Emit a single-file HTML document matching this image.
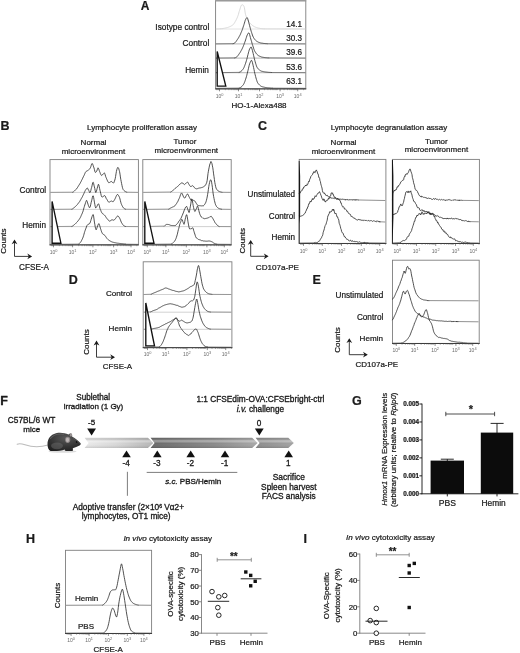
<!DOCTYPE html>
<html lang="en">
<head>
<meta charset="utf-8">
<title>Figure</title>
<style>
html,body{margin:0;padding:0;background:#fff;}
body{width:520px;height:653px;overflow:hidden;font-family:"Liberation Sans",Arial,Helvetica,sans-serif;}
svg{display:block;filter:blur(0.35px);}
svg text{stroke:#1a1a1a;stroke-width:0.22px;stroke-linejoin:round;}
svg text.tk{stroke:none;}
#panelF text{stroke-width:0.32px;}
</style>
</head>
<body>
<svg width="520" height="653" viewBox="0 0 520 653" font-family="'Liberation Sans', Arial, Helvetica, sans-serif" fill="#1a1a1a">
<rect width="520" height="653" fill="#fff"/>
<g id="panelA">
<text x="140.80" y="9.92" font-size="12" font-weight="bold">A</text>
<rect x="215.60" y="0.70" width="90.20" height="88.10" fill="#fff" stroke="#7e7e7e" stroke-width="0.9"/>
<rect x="215.15" y="0" width="91.10" height="1.4" fill="#9a9a9a"/>
<line x1="215.60" y1="29.00" x2="305.80" y2="29.00" stroke="#cfcfcf" stroke-width="0.55"/>
<path d="M216.00 29.00 L220.80 28.76" fill="none" stroke="#d4d4d4" stroke-width="0.68"/>
<path d="M220.80 28.76 L221.20 28.73 L221.60 28.66 L222.00 28.60 L222.40 28.56 L222.80 28.51 L223.20 28.43 L223.60 28.38 L224.00 28.30 L224.40 28.23 L224.80 28.18 L225.20 28.07 L225.60 27.95 L226.00 27.84 L226.40 27.76 L226.80 27.71 L227.20 27.63 L227.60 27.51 L228.00 27.32 L228.40 27.21 L228.80 27.08 L229.20 26.88 L229.60 26.76 L230.00 26.58 L230.40 26.41 L230.80 26.25 L231.20 26.00 L231.60 25.71 L232.00 25.52 L232.40 25.27 L232.80 24.95 L233.20 24.63 L233.60 24.15 L234.00 23.57 L234.40 22.98 L234.80 22.36 L235.20 21.62 L235.60 21.00 L236.00 20.20 L236.40 19.41 L236.80 18.54 L237.20 17.76 L237.60 16.71 L238.00 15.69 L238.40 14.47 L238.80 12.99 L239.20 11.54 L239.60 10.36 L240.00 9.05 L240.40 7.65 L240.80 6.38 L241.20 5.44 L241.60 5.19 L242.00 5.02 L242.40 4.82 L242.80 4.96 L243.20 5.20 L243.60 5.68 L244.00 6.43 L244.40 7.68 L244.80 10.28 L245.20 13.00 L245.60 14.79 L246.00 15.93 L246.40 17.06 L246.80 18.03 L247.20 18.94 L247.60 19.65 L248.00 20.31 L248.40 20.99 L248.80 21.53 L249.20 22.10 L249.60 22.70 L250.00 23.16 L250.40 23.52 L250.80 23.93 L251.20 24.29 L251.60 24.73 L252.00 25.04 L252.40 25.36 L252.80 25.67 L253.20 25.95 L253.60 26.20 L254.00 26.45 L254.40 26.68 L254.80 26.92 L255.20 27.09 L255.60 27.20 L256.00 27.36 L256.40 27.53 L256.80 27.67 L257.20 27.75 L257.60 27.88 L258.00 27.99 L258.40 28.09 L258.80 28.16 L259.20 28.21 L259.60 28.30 L260.00 28.38 L260.40 28.45 L260.80 28.52 L261.20 28.57 L261.60 28.61 L262.00 28.64 L262.40 28.68 L262.80 28.73 L263.20 28.75 L263.60 28.77 L264.00 28.82" fill="none" stroke="#cfcfcf" stroke-width="0.8" stroke-linejoin="round" stroke-linecap="round"/>
<path d="M264.00 28.82 L305.20 29.00" fill="none" stroke="#d4d4d4" stroke-width="0.68"/>
<line x1="215.60" y1="43.90" x2="305.80" y2="43.90" stroke="#777" stroke-width="0.55"/>
<path d="M216.00 43.90 L233.20 43.68" fill="none" stroke="#5c5c5c" stroke-width="0.68"/>
<path d="M233.20 43.68 L233.60 43.54 L234.00 43.41 L234.40 43.21 L234.80 42.94 L235.20 42.51 L235.60 42.02 L236.00 41.57 L236.40 41.03 L236.80 40.37 L237.20 39.81 L237.60 39.17 L238.00 38.61 L238.40 38.04 L238.80 37.31 L239.20 36.53 L239.60 35.84 L240.00 35.13 L240.40 34.29 L240.80 33.28 L241.20 32.32 L241.60 31.44 L242.00 30.40 L242.40 29.33 L242.80 28.21 L243.20 26.86 L243.60 25.79 L244.00 24.48 L244.40 23.11 L244.80 21.82 L245.20 20.42 L245.60 19.51 L246.00 18.68 L246.40 18.20 L246.80 17.72 L247.20 17.69 L247.60 18.42 L248.00 19.55 L248.40 21.12 L248.80 22.77 L249.20 24.04 L249.60 25.65 L250.00 27.16 L250.40 28.51 L250.80 29.92 L251.20 31.34 L251.60 32.45 L252.00 33.81 L252.40 35.03 L252.80 36.01 L253.20 36.95 L253.60 37.68 L254.00 38.36 L254.40 38.96 L254.80 39.44 L255.20 39.94 L255.60 40.35 L256.00 40.74 L256.40 41.07 L256.80 41.29 L257.20 41.54 L257.60 41.76 L258.00 41.93 L258.40 42.17 L258.80 42.37 L259.20 42.47 L259.60 42.60 L260.00 42.76 L260.40 42.89 L260.80 42.96 L261.20 43.02 L261.60 43.13 L262.00 43.16 L262.40 43.21 L262.80 43.28 L263.20 43.35 L263.60 43.42 L264.00 43.48 L264.40 43.48 L264.80 43.53 L265.20 43.56 L265.60 43.60 L266.00 43.61 L266.40 43.64 L266.80 43.68 L267.20 43.71" fill="none" stroke="#242424" stroke-width="0.8" stroke-linejoin="round" stroke-linecap="round"/>
<path d="M267.20 43.71 L305.20 43.90" fill="none" stroke="#5c5c5c" stroke-width="0.68"/>
<line x1="215.60" y1="58.10" x2="305.80" y2="58.10" stroke="#777" stroke-width="0.55"/>
<path d="M216.00 58.10 L234.80 57.88" fill="none" stroke="#5c5c5c" stroke-width="0.68"/>
<path d="M234.80 57.88 L235.20 57.76 L235.60 57.64 L236.00 57.51 L236.40 57.27 L236.80 56.90 L237.20 56.45 L237.60 56.01 L238.00 55.49 L238.40 54.94 L238.80 54.36 L239.20 53.76 L239.60 53.20 L240.00 52.68 L240.40 51.95 L240.80 51.29 L241.20 50.57 L241.60 49.88 L242.00 49.09 L242.40 48.28 L242.80 47.33 L243.20 46.49 L243.60 45.42 L244.00 44.41 L244.40 43.21 L244.80 42.22 L245.20 41.12 L245.60 39.95 L246.00 38.57 L246.40 37.39 L246.80 36.08 L247.20 35.07 L247.60 34.31 L248.00 33.66 L248.40 32.98 L248.80 32.85 L249.20 33.19 L249.60 34.59 L250.00 35.97 L250.40 37.59 L250.80 39.01 L251.20 40.27 L251.60 41.59 L252.00 43.21 L252.40 44.59 L252.80 45.73 L253.20 46.98 L253.60 48.22 L254.00 49.44 L254.40 50.51 L254.80 51.30 L255.20 51.90 L255.60 52.46 L256.00 53.09 L256.40 53.72 L256.80 54.21 L257.20 54.58 L257.60 54.93 L258.00 55.27 L258.40 55.60 L258.80 55.82 L259.20 56.03 L259.60 56.21 L260.00 56.41 L260.40 56.53 L260.80 56.67 L261.20 56.86 L261.60 57.00 L262.00 57.07 L262.40 57.20 L262.80 57.25 L263.20 57.33 L263.60 57.39 L264.00 57.44 L264.40 57.52 L264.80 57.58 L265.20 57.63 L265.60 57.66 L266.00 57.69 L266.40 57.74 L266.80 57.76 L267.20 57.80 L267.60 57.84 L268.00 57.86 L268.40 57.86 L268.80 57.89" fill="none" stroke="#242424" stroke-width="0.8" stroke-linejoin="round" stroke-linecap="round"/>
<path d="M268.80 57.89 L305.20 58.10" fill="none" stroke="#5c5c5c" stroke-width="0.68"/>
<line x1="215.60" y1="72.70" x2="305.80" y2="72.70" stroke="#777" stroke-width="0.55"/>
<path d="M216.00 72.70 L239.20 72.35" fill="none" stroke="#5c5c5c" stroke-width="0.68"/>
<path d="M239.20 72.35 L239.60 72.16 L240.00 71.95 L240.40 71.77 L240.80 71.50 L241.20 71.16 L241.60 70.87 L242.00 70.49 L242.40 69.98 L242.80 69.45 L243.20 68.92 L243.60 68.30 L244.00 67.46 L244.40 66.44 L244.80 65.41 L245.20 64.33 L245.60 63.28 L246.00 61.94 L246.40 60.69 L246.80 59.23 L247.20 57.81 L247.60 56.04 L248.00 54.49 L248.40 52.92 L248.80 51.48 L249.20 50.06 L249.60 49.10 L250.00 48.24 L250.40 47.61 L250.80 47.05 L251.20 47.05 L251.60 47.75 L252.00 49.05 L252.40 50.42 L252.80 52.01 L253.20 53.56 L253.60 55.38 L254.00 57.09 L254.40 58.83 L254.80 60.36 L255.20 61.86 L255.60 63.21 L256.00 64.53 L256.40 65.78 L256.80 66.84 L257.20 67.50 L257.60 68.13 L258.00 68.62 L258.40 69.07 L258.80 69.44 L259.20 69.85 L259.60 70.15 L260.00 70.44 L260.40 70.64 L260.80 70.91 L261.20 71.08 L261.60 71.21 L262.00 71.28 L262.40 71.40 L262.80 71.51 L263.20 71.59 L263.60 71.69 L264.00 71.79 L264.40 71.84 L264.80 71.87 L265.20 71.92 L265.60 72.00 L266.00 72.04 L266.40 72.07 L266.80 72.14 L267.20 72.17 L267.60 72.22 L268.00 72.27 L268.40 72.30 L268.80 72.34 L269.20 72.36 L269.60 72.40 L270.00 72.42 L270.40 72.45 L270.80 72.45 L271.20 72.47 L271.60 72.51" fill="none" stroke="#242424" stroke-width="0.8" stroke-linejoin="round" stroke-linecap="round"/>
<path d="M271.60 72.51 L305.20 72.70" fill="none" stroke="#5c5c5c" stroke-width="0.68"/>
<path d="M216.00 88.30 L239.20 88.05" fill="none" stroke="#5c5c5c" stroke-width="0.68"/>
<path d="M239.20 88.05 L239.60 87.89 L240.00 87.71 L240.40 87.52 L240.80 87.29 L241.20 87.05 L241.60 86.70 L242.00 86.33 L242.40 85.83 L242.80 85.30 L243.20 84.85 L243.60 84.30 L244.00 83.50 L244.40 82.57 L244.80 81.64 L245.20 80.49 L245.60 79.25 L246.00 78.04 L246.40 76.73 L246.80 75.27 L247.20 73.62 L247.60 72.06 L248.00 70.38 L248.40 68.75 L248.80 66.97 L249.20 65.25 L249.60 63.84 L250.00 62.81 L250.40 62.02 L250.80 61.21 L251.20 60.44 L251.60 60.36 L252.00 61.16 L252.40 62.32 L252.80 64.08 L253.20 65.78 L253.60 67.55 L254.00 69.48 L254.40 71.48 L254.80 73.39 L255.20 74.89 L255.60 76.47 L256.00 78.00 L256.40 79.38 L256.80 80.60 L257.20 81.80 L257.60 82.63 L258.00 83.28 L258.40 83.80 L258.80 84.28 L259.20 84.68 L259.60 85.08 L260.00 85.47 L260.40 85.76 L260.80 86.08 L261.20 86.33 L261.60 86.47 L262.00 86.64 L262.40 86.75 L262.80 86.91 L263.20 86.98 L263.60 87.09 L264.00 87.21 L264.40 87.25 L264.80 87.34 L265.20 87.42 L265.60 87.50 L266.00 87.57 L266.40 87.62 L266.80 87.65 L267.20 87.71 L267.60 87.76 L268.00 87.79 L268.40 87.82 L268.80 87.86 L269.20 87.88 L269.60 87.92 L270.00 87.96 L270.40 87.98 L270.80 88.02 L271.20 88.05 L271.60 88.07 L272.00 88.08 L272.40 88.11" fill="none" stroke="#242424" stroke-width="0.8" stroke-linejoin="round" stroke-linecap="round"/>
<path d="M272.40 88.11 L305.20 88.30" fill="none" stroke="#5c5c5c" stroke-width="0.68"/>
<text x="302.00" y="27.13" font-size="8.15" text-anchor="end">14.1</text>
<text x="302.00" y="40.93" font-size="8.15" text-anchor="end">30.3</text>
<text x="302.00" y="54.93" font-size="8.15" text-anchor="end">39.6</text>
<text x="302.00" y="69.73" font-size="8.15" text-anchor="end">53.6</text>
<text x="302.00" y="84.23" font-size="8.15" text-anchor="end">63.1</text>
<path d="M217.20 51.50 L217.20 86.10 L225.80 86.10 Z" fill="#fff" stroke="#111" stroke-width="1.35" stroke-linejoin="miter"/>
<text x="209.30" y="30.29" font-size="8.3" text-anchor="end">Isotype control</text>
<text x="209.30" y="45.59" font-size="8.3" text-anchor="end">Control</text>
<text x="208.80" y="73.15" font-size="8.2" text-anchor="end">Hemin</text>
<line x1="215.15" y1="88.90" x2="306.25" y2="88.90" stroke="#3c3c3c" stroke-width="1.0"/>
<line x1="219.50" y1="88.80" x2="219.50" y2="91.30" stroke="#444" stroke-width="0.6"/>
<text x="219.50" y="97.80" font-size="5.0" text-anchor="middle" class="tk" fill="#6a6a6a">10<tspan dy="-2.1" font-size="3.90">0</tspan></text>
<line x1="238.50" y1="88.80" x2="238.50" y2="91.30" stroke="#444" stroke-width="0.6"/>
<text x="238.50" y="97.80" font-size="5.0" text-anchor="middle" class="tk" fill="#6a6a6a">10<tspan dy="-2.1" font-size="3.90">1</tspan></text>
<line x1="259.50" y1="88.80" x2="259.50" y2="91.30" stroke="#444" stroke-width="0.6"/>
<text x="259.50" y="97.80" font-size="5.0" text-anchor="middle" class="tk" fill="#6a6a6a">10<tspan dy="-2.1" font-size="3.90">2</tspan></text>
<line x1="280.10" y1="88.80" x2="280.10" y2="91.30" stroke="#444" stroke-width="0.6"/>
<text x="280.10" y="97.80" font-size="5.0" text-anchor="middle" class="tk" fill="#6a6a6a">10<tspan dy="-2.1" font-size="3.90">3</tspan></text>
<line x1="297.70" y1="88.80" x2="297.70" y2="91.30" stroke="#444" stroke-width="0.6"/>
<text x="297.70" y="97.80" font-size="5.0" text-anchor="middle" class="tk" fill="#6a6a6a">10<tspan dy="-2.1" font-size="3.90">4</tspan></text>
<line x1="216.47" y1="88.80" x2="216.47" y2="90.20" stroke="#555" stroke-width="0.45"/>
<line x1="217.61" y1="88.80" x2="217.61" y2="90.20" stroke="#555" stroke-width="0.45"/>
<line x1="218.61" y1="88.80" x2="218.61" y2="90.20" stroke="#555" stroke-width="0.45"/>
<line x1="225.39" y1="88.80" x2="225.39" y2="90.20" stroke="#555" stroke-width="0.45"/>
<line x1="228.83" y1="88.80" x2="228.83" y2="90.20" stroke="#555" stroke-width="0.45"/>
<line x1="231.27" y1="88.80" x2="231.27" y2="90.20" stroke="#555" stroke-width="0.45"/>
<line x1="233.16" y1="88.80" x2="233.16" y2="90.20" stroke="#555" stroke-width="0.45"/>
<line x1="234.71" y1="88.80" x2="234.71" y2="90.20" stroke="#555" stroke-width="0.45"/>
<line x1="236.02" y1="88.80" x2="236.02" y2="90.20" stroke="#555" stroke-width="0.45"/>
<line x1="237.16" y1="88.80" x2="237.16" y2="90.20" stroke="#555" stroke-width="0.45"/>
<line x1="238.16" y1="88.80" x2="238.16" y2="90.20" stroke="#555" stroke-width="0.45"/>
<line x1="244.94" y1="88.80" x2="244.94" y2="90.20" stroke="#555" stroke-width="0.45"/>
<line x1="248.38" y1="88.80" x2="248.38" y2="90.20" stroke="#555" stroke-width="0.45"/>
<line x1="250.82" y1="88.80" x2="250.82" y2="90.20" stroke="#555" stroke-width="0.45"/>
<line x1="252.71" y1="88.80" x2="252.71" y2="90.20" stroke="#555" stroke-width="0.45"/>
<line x1="254.26" y1="88.80" x2="254.26" y2="90.20" stroke="#555" stroke-width="0.45"/>
<line x1="255.57" y1="88.80" x2="255.57" y2="90.20" stroke="#555" stroke-width="0.45"/>
<line x1="256.71" y1="88.80" x2="256.71" y2="90.20" stroke="#555" stroke-width="0.45"/>
<line x1="257.71" y1="88.80" x2="257.71" y2="90.20" stroke="#555" stroke-width="0.45"/>
<line x1="264.49" y1="88.80" x2="264.49" y2="90.20" stroke="#555" stroke-width="0.45"/>
<line x1="267.93" y1="88.80" x2="267.93" y2="90.20" stroke="#555" stroke-width="0.45"/>
<line x1="270.37" y1="88.80" x2="270.37" y2="90.20" stroke="#555" stroke-width="0.45"/>
<line x1="272.26" y1="88.80" x2="272.26" y2="90.20" stroke="#555" stroke-width="0.45"/>
<line x1="273.81" y1="88.80" x2="273.81" y2="90.20" stroke="#555" stroke-width="0.45"/>
<line x1="275.12" y1="88.80" x2="275.12" y2="90.20" stroke="#555" stroke-width="0.45"/>
<line x1="276.26" y1="88.80" x2="276.26" y2="90.20" stroke="#555" stroke-width="0.45"/>
<line x1="277.26" y1="88.80" x2="277.26" y2="90.20" stroke="#555" stroke-width="0.45"/>
<line x1="284.04" y1="88.80" x2="284.04" y2="90.20" stroke="#555" stroke-width="0.45"/>
<line x1="287.48" y1="88.80" x2="287.48" y2="90.20" stroke="#555" stroke-width="0.45"/>
<line x1="289.92" y1="88.80" x2="289.92" y2="90.20" stroke="#555" stroke-width="0.45"/>
<line x1="291.81" y1="88.80" x2="291.81" y2="90.20" stroke="#555" stroke-width="0.45"/>
<line x1="293.36" y1="88.80" x2="293.36" y2="90.20" stroke="#555" stroke-width="0.45"/>
<line x1="294.67" y1="88.80" x2="294.67" y2="90.20" stroke="#555" stroke-width="0.45"/>
<line x1="295.81" y1="88.80" x2="295.81" y2="90.20" stroke="#555" stroke-width="0.45"/>
<line x1="296.81" y1="88.80" x2="296.81" y2="90.20" stroke="#555" stroke-width="0.45"/>
<line x1="303.59" y1="88.80" x2="303.59" y2="90.20" stroke="#555" stroke-width="0.45"/>
<text x="259.00" y="107.88" font-size="8" text-anchor="middle">HO-1-Alexa488</text>
</g>
<g id="panelB">
<text x="0.50" y="129.50" font-size="12.5" font-weight="bold">B</text>
<text x="142.00" y="129.88" font-size="8" text-anchor="middle">Lymphocyte proliferation assay</text>
<text x="93.50" y="145.48" font-size="8" text-anchor="middle">Normal</text>
<text x="93.50" y="154.48" font-size="8" text-anchor="middle">microenvironment</text>
<text x="184.90" y="144.08" font-size="8" text-anchor="middle">Tumor</text>
<text x="186.30" y="152.88" font-size="8" text-anchor="middle">microenvironment</text>
<rect x="50.00" y="159.60" width="88.40" height="85.20" fill="#fff" stroke="#7e7e7e" stroke-width="0.9"/>
<rect x="142.80" y="159.60" width="88.40" height="85.20" fill="#fff" stroke="#7e7e7e" stroke-width="0.9"/>
<line x1="50.00" y1="192.40" x2="138.40" y2="192.40" stroke="#a2a2a2" stroke-width="0.5"/>
<path d="M50.40 192.40 L72.80 192.18" fill="none" stroke="#7c7c7c" stroke-width="0.68"/>
<path d="M72.80 192.18 L73.20 191.98 L73.60 191.69 L74.00 191.36 L74.40 191.01 L74.80 190.56 L75.20 190.14 L75.60 189.81 L76.00 189.35 L76.40 189.03 L76.80 188.49 L77.20 187.99 L77.60 187.36 L78.00 186.66 L78.40 186.06 L78.80 185.37 L79.20 184.83 L79.60 184.08 L80.00 183.49 L80.40 182.75 L80.80 182.01 L81.20 181.30 L81.60 180.34 L82.00 179.63 L82.40 178.81 L82.80 178.04 L83.20 177.06 L83.60 176.29 L84.00 175.52 L84.40 174.65 L84.80 173.69 L85.20 172.72 L85.60 172.14 L86.00 171.71 L86.40 171.17 L86.80 170.87 L87.20 170.80 L87.60 170.61 L88.00 170.47 L88.40 170.18 L88.80 169.78 L89.20 169.40 L89.60 168.95 L90.00 168.40 L90.40 167.76 L90.80 166.81 L91.20 165.40 L91.60 164.19 L92.00 163.48 L92.40 163.71 L92.80 164.51 L93.20 165.54 L93.60 166.87 L94.00 167.93 L94.40 169.42 L94.80 171.18 L95.20 172.28 L95.60 172.45 L96.00 172.01 L96.40 171.65 L96.80 171.06 L97.20 169.81 L97.60 168.64 L98.00 167.81 L98.40 168.32 L98.80 169.12 L99.20 170.33 L99.60 171.52 L100.00 172.41 L100.40 173.61 L100.80 174.44 L101.20 175.18 L101.60 175.53 L102.00 175.26 L102.40 174.96 L102.80 174.39 L103.20 173.98 L103.60 173.59 L104.00 173.14 L104.40 172.85 L104.80 173.72 L105.20 174.75 L105.60 176.36 L106.00 177.37 L106.40 178.25 L106.80 179.26 L107.20 180.17 L107.60 181.03 L108.00 181.83 L108.40 182.42 L108.80 182.81 L109.20 182.71 L109.60 182.45 L110.00 182.31 L110.40 181.94 L110.80 181.61 L111.20 181.46 L111.60 181.55 L112.00 181.88 L112.40 182.44 L112.80 182.61 L113.20 182.94 L113.60 182.91 L114.00 182.46 L114.40 181.26 L114.80 180.06 L115.20 178.66 L115.60 176.45 L116.00 173.82 L116.40 171.53 L116.80 169.71 L117.20 168.55 L117.60 167.63 L118.00 167.37 L118.40 167.95 L118.80 168.77 L119.20 170.27 L119.60 171.71 L120.00 174.13 L120.40 176.91 L120.80 179.47 L121.20 181.47 L121.60 183.56 L122.00 185.54 L122.40 187.33 L122.80 188.72 L123.20 189.58 L123.60 190.14 L124.00 190.56 L124.40 190.90 L124.80 191.22 L125.20 191.43 L125.60 191.67 L126.00 191.84 L126.40 192.02 L126.80 192.18" fill="none" stroke="#242424" stroke-width="0.8" stroke-linejoin="round" stroke-linecap="round"/>
<path d="M126.80 192.18 L138.00 192.40" fill="none" stroke="#7c7c7c" stroke-width="0.68"/>
<line x1="50.00" y1="209.40" x2="138.40" y2="209.40" stroke="#a2a2a2" stroke-width="0.5"/>
<path d="M50.40 209.40 L72.00 209.15" fill="none" stroke="#7c7c7c" stroke-width="0.68"/>
<path d="M72.00 209.15 L72.40 208.95 L72.80 208.70 L73.20 208.41 L73.60 208.04 L74.00 207.73 L74.40 207.45 L74.80 207.14 L75.20 206.75 L75.60 206.32 L76.00 205.97 L76.40 205.58 L76.80 205.14 L77.20 204.65 L77.60 204.25 L78.00 203.71 L78.40 203.19 L78.80 202.64 L79.20 202.17 L79.60 201.63 L80.00 200.98 L80.40 200.15 L80.80 199.51 L81.20 198.76 L81.60 198.08 L82.00 197.42 L82.40 196.73 L82.80 195.78 L83.20 194.93 L83.60 194.20 L84.00 193.29 L84.40 192.40 L84.80 191.47 L85.20 190.62 L85.60 190.10 L86.00 189.37 L86.40 188.71 L86.80 188.30 L87.20 187.97 L87.60 188.26 L88.00 189.00 L88.40 189.93 L88.80 190.48 L89.20 191.51 L89.60 192.43 L90.00 192.59 L90.40 191.94 L90.80 190.64 L91.20 188.83 L91.60 187.50 L92.00 185.87 L92.40 184.00 L92.80 182.52 L93.20 182.26 L93.60 183.41 L94.00 185.22 L94.40 186.92 L94.80 188.59 L95.20 190.70 L95.60 192.29 L96.00 192.49 L96.40 191.28 L96.80 189.80 L97.20 188.27 L97.60 186.89 L98.00 185.26 L98.40 184.25 L98.80 184.84 L99.20 186.41 L99.60 188.50 L100.00 190.36 L100.40 191.96 L100.80 193.65 L101.20 195.42 L101.60 196.62 L102.00 197.16 L102.40 196.96 L102.80 196.91 L103.20 196.53 L103.60 196.13 L104.00 195.99 L104.40 195.65 L104.80 195.63 L105.20 196.06 L105.60 196.93 L106.00 197.97 L106.40 198.78 L106.80 199.26 L107.20 199.87 L107.60 200.69 L108.00 201.36 L108.40 201.86 L108.80 202.15 L109.20 202.08 L109.60 202.00 L110.00 201.67 L110.40 201.45 L110.80 201.27 L111.20 201.03 L111.60 201.10 L112.00 201.25 L112.40 201.51 L112.80 201.70 L113.20 201.69 L113.60 201.31 L114.00 200.63 L114.40 199.92 L114.80 199.34 L115.20 198.56 L115.60 197.61 L116.00 196.63 L116.40 195.67 L116.80 195.12 L117.20 194.58 L117.60 194.58 L118.00 194.67 L118.40 195.31 L118.80 195.91 L119.20 196.77 L119.60 197.61 L120.00 199.03 L120.40 200.71 L120.80 202.27 L121.20 203.67 L121.60 204.58 L122.00 205.48 L122.40 206.27 L122.80 206.97 L123.20 207.53 L123.60 208.08 L124.00 208.40 L124.40 208.65 L124.80 208.86 L125.20 209.05 L125.60 209.23" fill="none" stroke="#242424" stroke-width="0.8" stroke-linejoin="round" stroke-linecap="round"/>
<path d="M125.60 209.23 L138.00 209.40" fill="none" stroke="#7c7c7c" stroke-width="0.68"/>
<line x1="50.00" y1="226.60" x2="138.40" y2="226.60" stroke="#a2a2a2" stroke-width="0.5"/>
<path d="M50.40 226.60 L72.00 226.36" fill="none" stroke="#7c7c7c" stroke-width="0.68"/>
<path d="M72.00 226.36 L72.40 226.15 L72.80 225.88 L73.20 225.59 L73.60 225.31 L74.00 224.91 L74.40 224.60 L74.80 224.27 L75.20 223.95 L75.60 223.54 L76.00 223.12 L76.40 222.76 L76.80 222.38 L77.20 222.01 L77.60 221.43 L78.00 221.01 L78.40 220.45 L78.80 219.93 L79.20 219.36 L79.60 218.73 L80.00 218.09 L80.40 217.42 L80.80 216.54 L81.20 215.58 L81.60 214.68 L82.00 213.87 L82.40 212.82 L82.80 211.92 L83.20 210.65 L83.60 209.15 L84.00 207.63 L84.40 206.37 L84.80 205.00 L85.20 203.91 L85.60 202.63 L86.00 201.41 L86.40 200.47 L86.80 200.51 L87.20 201.56 L87.60 202.89 L88.00 204.21 L88.40 205.40 L88.80 206.46 L89.20 207.34 L89.60 207.78 L90.00 207.12 L90.40 206.03 L90.80 204.21 L91.20 202.33 L91.60 200.87 L92.00 199.17 L92.40 197.22 L92.80 195.97 L93.20 195.80 L93.60 197.39 L94.00 199.56 L94.40 202.14 L94.80 204.28 L95.20 206.41 L95.60 207.86 L96.00 207.77 L96.40 207.33 L96.80 206.53 L97.20 205.82 L97.60 204.91 L98.00 204.15 L98.40 203.75 L98.80 204.11 L99.20 205.25 L99.60 206.82 L100.00 208.60 L100.40 209.66 L100.80 210.45 L101.20 211.54 L101.60 212.39 L102.00 213.02 L102.40 213.56 L102.80 213.84 L103.20 214.08 L103.60 214.37 L104.00 214.70 L104.40 215.03 L104.80 215.43 L105.20 216.02 L105.60 216.52 L106.00 217.25 L106.40 217.75 L106.80 218.30 L107.20 218.90 L107.60 219.33 L108.00 219.76 L108.40 220.30 L108.80 220.65 L109.20 221.03 L109.60 221.13 L110.00 221.30 L110.40 221.02 L110.80 220.50 L111.20 220.10 L111.60 219.80 L112.00 219.59 L112.40 219.78 L112.80 220.02 L113.20 220.15 L113.60 220.21 L114.00 220.23 L114.40 219.90 L114.80 219.40 L115.20 219.00 L115.60 218.46 L116.00 217.87 L116.40 217.32 L116.80 216.81 L117.20 216.22 L117.60 215.93 L118.00 215.97 L118.40 216.28 L118.80 216.86 L119.20 217.38 L119.60 218.09 L120.00 218.87 L120.40 219.85 L120.80 220.88 L121.20 222.00 L121.60 222.78 L122.00 223.38 L122.40 224.00 L122.80 224.62 L123.20 225.11 L123.60 225.54 L124.00 225.83 L124.40 226.04 L124.80 226.21 L125.20 226.36 L125.60 226.48" fill="none" stroke="#242424" stroke-width="0.8" stroke-linejoin="round" stroke-linecap="round"/>
<path d="M125.60 226.48 L138.00 226.60" fill="none" stroke="#7c7c7c" stroke-width="0.68"/>
<path d="M50.40 244.30 L78.80 243.99" fill="none" stroke="#7c7c7c" stroke-width="0.68"/>
<path d="M78.80 243.99 L79.20 243.66 L79.60 243.25 L80.00 242.83 L80.40 242.33 L80.80 241.84 L81.20 241.26 L81.60 240.43 L82.00 239.64 L82.40 238.80 L82.80 237.91 L83.20 236.85 L83.60 235.67 L84.00 234.15 L84.40 232.63 L84.80 231.40 L85.20 230.25 L85.60 229.10 L86.00 228.14 L86.40 227.02 L86.80 225.93 L87.20 225.28 L87.60 224.72 L88.00 224.27 L88.40 224.20 L88.80 224.17 L89.20 223.88 L89.60 223.62 L90.00 222.94 L90.40 221.88 L90.80 220.65 L91.20 219.27 L91.60 218.01 L92.00 216.71 L92.40 215.60 L92.80 214.76 L93.20 214.58 L93.60 216.08 L94.00 219.03 L94.40 222.07 L94.80 224.22 L95.20 226.74 L95.60 228.66 L96.00 229.80 L96.40 229.51 L96.80 228.34 L97.20 227.16 L97.60 225.92 L98.00 225.06 L98.40 224.03 L98.80 223.59 L99.20 224.17 L99.60 225.26 L100.00 226.76 L100.40 228.23 L100.80 229.30 L101.20 230.67 L101.60 231.81 L102.00 232.72 L102.40 233.62 L102.80 233.93 L103.20 234.32 L103.60 234.46 L104.00 234.76 L104.40 234.99 L104.80 235.34 L105.20 235.93 L105.60 236.43 L106.00 237.09 L106.40 237.67 L106.80 238.24 L107.20 238.69 L107.60 239.10 L108.00 239.53 L108.40 239.81 L108.80 240.24 L109.20 240.46 L109.60 240.69 L110.00 240.96 L110.40 241.15 L110.80 241.34 L111.20 241.53 L111.60 241.75 L112.00 241.92 L112.40 242.07 L112.80 242.21 L113.20 242.26 L113.60 242.40 L114.00 242.51 L114.40 242.61 L114.80 242.65 L115.20 242.74 L115.60 242.81 L116.00 242.91 L116.40 242.99 L116.80 243.07 L117.20 243.13 L117.60 243.18 L118.00 243.18 L118.40 243.24 L118.80 243.33 L119.20 243.37 L119.60 243.45 L120.00 243.47 L120.40 243.52 L120.80 243.54 L121.20 243.61 L121.60 243.63 L122.00 243.70 L122.40 243.71 L122.80 243.76 L123.20 243.84 L123.60 243.85 L124.00 243.91 L124.40 243.95 L124.80 244.00 L125.20 244.02 L125.60 244.08" fill="none" stroke="#242424" stroke-width="0.8" stroke-linejoin="round" stroke-linecap="round"/>
<path d="M125.60 244.08 L138.00 244.30" fill="none" stroke="#7c7c7c" stroke-width="0.68"/>
<line x1="142.80" y1="192.40" x2="231.20" y2="192.40" stroke="#a2a2a2" stroke-width="0.5"/>
<path d="M143.20 192.40 L170.80 191.97" fill="none" stroke="#7c7c7c" stroke-width="0.68"/>
<path d="M170.80 191.97 L171.20 191.73 L171.60 191.46 L172.00 191.14 L172.40 190.85 L172.80 190.49 L173.20 190.20 L173.60 189.88 L174.00 189.60 L174.40 189.25 L174.80 188.83 L175.20 188.36 L175.60 188.05 L176.00 187.77 L176.40 187.34 L176.80 187.13 L177.20 186.77 L177.60 186.51 L178.00 186.02 L178.40 185.70 L178.80 185.31 L179.20 184.80 L179.60 184.43 L180.00 184.28 L180.40 183.83 L180.80 183.60 L181.20 183.01 L181.60 182.78 L182.00 182.55 L182.40 182.90 L182.80 183.13 L183.20 183.74 L183.60 183.82 L184.00 184.16 L184.40 184.52 L184.80 184.30 L185.20 183.93 L185.60 183.67 L186.00 183.19 L186.40 182.81 L186.80 182.57 L187.20 182.25 L187.60 182.02 L188.00 182.67 L188.40 183.36 L188.80 184.12 L189.20 184.72 L189.60 185.44 L190.00 185.96 L190.40 186.44 L190.80 186.44 L191.20 186.32 L191.60 186.28 L192.00 186.05 L192.40 185.73 L192.80 185.65 L193.20 186.00 L193.60 186.53 L194.00 187.07 L194.40 187.66 L194.80 188.02 L195.20 188.21 L195.60 188.61 L196.00 188.83 L196.40 188.87 L196.80 188.74 L197.20 188.77 L197.60 188.56 L198.00 188.43 L198.40 188.26 L198.80 188.13 L199.20 188.03 L199.60 188.00 L200.00 188.00 L200.40 187.86 L200.80 187.87 L201.20 187.79 L201.60 187.54 L202.00 187.37 L202.40 187.35 L202.80 187.15 L203.20 186.88 L203.60 186.75 L204.00 186.40 L204.40 186.23 L204.80 185.94 L205.20 185.45 L205.60 184.95 L206.00 184.13 L206.40 183.29 L206.80 182.21 L207.20 180.29 L207.60 177.02 L208.00 173.51 L208.40 171.28 L208.80 169.07 L209.20 167.17 L209.60 165.09 L210.00 163.84 L210.40 162.97 L210.80 161.58 L211.20 161.65 L211.60 162.58 L212.00 163.75 L212.40 165.90 L212.80 167.84 L213.20 170.64 L213.60 173.90 L214.00 176.67 L214.40 179.41 L214.80 182.43 L215.20 184.40 L215.60 186.40 L216.00 187.90 L216.40 188.85 L216.80 189.45 L217.20 190.03 L217.60 190.48 L218.00 190.88 L218.40 191.04 L218.80 191.30 L219.20 191.44 L219.60 191.65 L220.00 191.80 L220.40 191.86 L220.80 191.99 L221.20 192.08 L221.60 192.17 L222.00 192.28" fill="none" stroke="#242424" stroke-width="0.8" stroke-linejoin="round" stroke-linecap="round"/>
<path d="M222.00 192.28 L230.80 192.40" fill="none" stroke="#7c7c7c" stroke-width="0.68"/>
<line x1="142.80" y1="209.40" x2="231.20" y2="209.40" stroke="#a2a2a2" stroke-width="0.5"/>
<path d="M143.20 209.40 L168.80 209.10" fill="none" stroke="#7c7c7c" stroke-width="0.68"/>
<path d="M168.80 209.10 L169.20 208.91 L169.60 208.64 L170.00 208.40 L170.40 208.12 L170.80 208.00 L171.20 207.81 L171.60 207.56 L172.00 207.41 L172.40 207.17 L172.80 206.99 L173.20 206.88 L173.60 206.72 L174.00 206.28 L174.40 206.12 L174.80 205.85 L175.20 205.45 L175.60 204.88 L176.00 204.25 L176.40 203.76 L176.80 203.18 L177.20 202.45 L177.60 201.87 L178.00 201.10 L178.40 200.15 L178.80 199.19 L179.20 198.49 L179.60 197.47 L180.00 196.39 L180.40 195.15 L180.80 194.25 L181.20 193.32 L181.60 192.92 L182.00 193.43 L182.40 194.15 L182.80 195.04 L183.20 196.12 L183.60 197.01 L184.00 197.55 L184.40 197.97 L184.80 198.12 L185.20 197.75 L185.60 196.94 L186.00 195.73 L186.40 195.35 L186.80 194.56 L187.20 194.22 L187.60 194.18 L188.00 194.29 L188.40 195.21 L188.80 196.29 L189.20 197.14 L189.60 197.73 L190.00 198.57 L190.40 199.26 L190.80 200.08 L191.20 200.51 L191.60 200.47 L192.00 200.37 L192.40 200.08 L192.80 199.98 L193.20 200.16 L193.60 200.43 L194.00 200.48 L194.40 200.72 L194.80 200.96 L195.20 201.52 L195.60 202.20 L196.00 203.03 L196.40 203.53 L196.80 204.29 L197.20 204.75 L197.60 205.13 L198.00 205.30 L198.40 205.48 L198.80 205.61 L199.20 205.64 L199.60 205.73 L200.00 205.86 L200.40 205.78 L200.80 205.76 L201.20 205.73 L201.60 205.94 L202.00 205.89 L202.40 205.79 L202.80 205.91 L203.20 205.95 L203.60 205.61 L204.00 205.29 L204.40 204.81 L204.80 204.12 L205.20 203.56 L205.60 202.80 L206.00 201.75 L206.40 200.42 L206.80 198.79 L207.20 197.00 L207.60 194.51 L208.00 192.26 L208.40 189.34 L208.80 186.46 L209.20 184.30 L209.60 182.44 L210.00 180.81 L210.40 180.06 L210.80 179.68 L211.20 180.45 L211.60 182.22 L212.00 184.66 L212.40 187.32 L212.80 190.85 L213.20 193.95 L213.60 196.33 L214.00 198.41 L214.40 200.48 L214.80 201.98 L215.20 203.53 L215.60 204.77 L216.00 205.52 L216.40 206.33 L216.80 206.88 L217.20 207.27 L217.60 207.63 L218.00 207.95 L218.40 208.24 L218.80 208.39 L219.20 208.60 L219.60 208.74 L220.00 208.85 L220.40 208.91 L220.80 209.02 L221.20 209.13 L221.60 209.21" fill="none" stroke="#242424" stroke-width="0.8" stroke-linejoin="round" stroke-linecap="round"/>
<path d="M221.60 209.21 L230.80 209.40" fill="none" stroke="#7c7c7c" stroke-width="0.68"/>
<line x1="142.80" y1="226.60" x2="231.20" y2="226.60" stroke="#a2a2a2" stroke-width="0.5"/>
<path d="M143.20 226.60 L164.40 226.04" fill="none" stroke="#7c7c7c" stroke-width="0.68"/>
<path d="M164.40 226.04 L164.80 225.58 L165.20 225.33 L165.60 224.99 L166.00 224.65 L166.40 224.46 L166.80 224.45 L167.20 224.51 L167.60 224.40 L168.00 224.45 L168.40 224.47 L168.80 224.63 L169.20 224.71 L169.60 224.86 L170.00 225.06 L170.40 225.23 L170.80 225.35 L171.20 225.45 L171.60 225.49 L172.00 225.47 L172.40 225.56 L172.80 225.51 L173.20 225.55 L173.60 225.56 L174.00 225.54 L174.40 225.55 L174.80 225.61 L175.20 225.52 L175.60 225.36 L176.00 225.11 L176.40 224.62 L176.80 224.25 L177.20 223.78 L177.60 223.27 L178.00 222.79 L178.40 222.02 L178.80 221.30 L179.20 220.80 L179.60 220.38 L180.00 219.79 L180.40 219.23 L180.80 218.53 L181.20 217.92 L181.60 216.94 L182.00 215.85 L182.40 215.15 L182.80 214.02 L183.20 213.03 L183.60 212.11 L184.00 210.84 L184.40 209.93 L184.80 208.74 L185.20 208.27 L185.60 207.12 L186.00 206.71 L186.40 206.58 L186.80 206.47 L187.20 207.52 L187.60 208.86 L188.00 209.88 L188.40 211.20 L188.80 212.33 L189.20 212.52 L189.60 210.84 L190.00 208.26 L190.40 206.11 L190.80 203.81 L191.20 201.11 L191.60 198.83 L192.00 199.28 L192.40 200.61 L192.80 203.35 L193.20 205.70 L193.60 207.63 L194.00 209.43 L194.40 210.51 L194.80 211.45 L195.20 211.22 L195.60 210.38 L196.00 209.29 L196.40 208.69 L196.80 207.60 L197.20 206.33 L197.60 206.04 L198.00 207.09 L198.40 208.84 L198.80 210.43 L199.20 211.97 L199.60 213.41 L200.00 214.58 L200.40 215.40 L200.80 216.22 L201.20 216.92 L201.60 217.04 L202.00 217.40 L202.40 217.81 L202.80 218.23 L203.20 218.30 L203.60 218.27 L204.00 218.51 L204.40 218.70 L204.80 218.56 L205.20 218.43 L205.60 218.57 L206.00 218.55 L206.40 218.38 L206.80 218.22 L207.20 218.19 L207.60 217.99 L208.00 217.83 L208.40 217.67 L208.80 217.57 L209.20 217.30 L209.60 217.15 L210.00 216.72 L210.40 216.69 L210.80 216.36 L211.20 216.27 L211.60 216.66 L212.00 217.27 L212.40 217.78 L212.80 218.47 L213.20 219.10 L213.60 219.92 L214.00 220.63 L214.40 221.34 L214.80 222.17 L215.20 222.92 L215.60 223.33 L216.00 223.92 L216.40 224.28 L216.80 224.72 L217.20 225.21 L217.60 225.50 L218.00 225.83 L218.40 226.06 L218.80 226.32 L219.20 226.52" fill="none" stroke="#242424" stroke-width="0.8" stroke-linejoin="round" stroke-linecap="round"/>
<path d="M219.20 226.52 L230.80 226.60" fill="none" stroke="#7c7c7c" stroke-width="0.68"/>
<path d="M143.20 244.30 L171.60 243.92" fill="none" stroke="#7c7c7c" stroke-width="0.68"/>
<path d="M171.60 243.92 L172.00 243.65 L172.40 243.26 L172.80 242.91 L173.20 242.66 L173.60 242.27 L174.00 241.80 L174.40 241.43 L174.80 240.92 L175.20 240.19 L175.60 239.37 L176.00 238.46 L176.40 237.34 L176.80 236.02 L177.20 234.75 L177.60 233.07 L178.00 231.22 L178.40 229.62 L178.80 228.27 L179.20 226.70 L179.60 224.91 L180.00 223.62 L180.40 222.60 L180.80 221.68 L181.20 220.40 L181.60 219.54 L182.00 219.42 L182.40 220.08 L182.80 221.48 L183.20 222.46 L183.60 223.57 L184.00 224.34 L184.40 223.37 L184.80 221.29 L185.20 219.22 L185.60 217.61 L186.00 215.95 L186.40 214.84 L186.80 214.72 L187.20 216.53 L187.60 219.07 L188.00 221.86 L188.40 224.09 L188.80 226.26 L189.20 227.94 L189.60 228.85 L190.00 229.05 L190.40 229.10 L190.80 228.66 L191.20 228.88 L191.60 228.40 L192.00 228.11 L192.40 228.00 L192.80 227.78 L193.20 228.60 L193.60 230.34 L194.00 231.51 L194.40 232.86 L194.80 234.00 L195.20 235.26 L195.60 236.57 L196.00 237.38 L196.40 237.98 L196.80 238.19 L197.20 238.44 L197.60 238.89 L198.00 239.25 L198.40 239.44 L198.80 239.50 L199.20 239.63 L199.60 239.74 L200.00 239.84 L200.40 240.01 L200.80 240.12 L201.20 240.44 L201.60 240.65 L202.00 240.56 L202.40 240.63 L202.80 240.78 L203.20 240.94 L203.60 240.99 L204.00 241.03 L204.40 241.02 L204.80 241.03 L205.20 241.09 L205.60 241.15 L206.00 241.15 L206.40 241.17 L206.80 241.19 L207.20 241.12 L207.60 241.15 L208.00 241.00 L208.40 240.99 L208.80 241.00 L209.20 240.97 L209.60 241.05 L210.00 241.15 L210.40 241.23 L210.80 241.30 L211.20 241.45 L211.60 241.68 L212.00 241.90 L212.40 242.02 L212.80 242.37 L213.20 242.64 L213.60 242.96 L214.00 243.25 L214.40 243.39 L214.80 243.56 L215.20 243.73 L215.60 243.84 L216.00 243.88 L216.40 244.00 L216.80 244.11" fill="none" stroke="#242424" stroke-width="0.8" stroke-linejoin="round" stroke-linecap="round"/>
<path d="M216.80 244.11 L230.80 244.30" fill="none" stroke="#7c7c7c" stroke-width="0.68"/>
<path d="M52.10 201.40 L52.10 243.20 L60.90 243.20 Z" fill="#fff" stroke="#111" stroke-width="1.35" stroke-linejoin="miter"/>
<path d="M144.80 201.40 L144.80 243.20 L154.00 243.20 Z" fill="#fff" stroke="#111" stroke-width="1.35" stroke-linejoin="miter"/>
<text x="46.20" y="193.39" font-size="8.3" text-anchor="end">Control</text>
<text x="46.00" y="228.15" font-size="8.2" text-anchor="end">Hemin</text>
<line x1="49.55" y1="244.90" x2="138.85" y2="244.90" stroke="#3c3c3c" stroke-width="1.0"/>
<line x1="53.50" y1="244.80" x2="53.50" y2="247.30" stroke="#444" stroke-width="0.6"/>
<text x="53.50" y="254.40" font-size="5.0" text-anchor="middle" class="tk" fill="#6a6a6a">10<tspan dy="-2.1" font-size="3.90">0</tspan></text>
<line x1="72.60" y1="244.80" x2="72.60" y2="247.30" stroke="#444" stroke-width="0.6"/>
<text x="72.60" y="254.40" font-size="5.0" text-anchor="middle" class="tk" fill="#6a6a6a">10<tspan dy="-2.1" font-size="3.90">1</tspan></text>
<line x1="92.90" y1="244.80" x2="92.90" y2="247.30" stroke="#444" stroke-width="0.6"/>
<text x="92.90" y="254.40" font-size="5.0" text-anchor="middle" class="tk" fill="#6a6a6a">10<tspan dy="-2.1" font-size="3.90">2</tspan></text>
<line x1="113.60" y1="244.80" x2="113.60" y2="247.30" stroke="#444" stroke-width="0.6"/>
<text x="113.60" y="254.40" font-size="5.0" text-anchor="middle" class="tk" fill="#6a6a6a">10<tspan dy="-2.1" font-size="3.90">3</tspan></text>
<line x1="131.00" y1="244.80" x2="131.00" y2="247.30" stroke="#444" stroke-width="0.6"/>
<text x="131.00" y="254.40" font-size="5.0" text-anchor="middle" class="tk" fill="#6a6a6a">10<tspan dy="-2.1" font-size="3.90">4</tspan></text>
<line x1="51.62" y1="244.80" x2="51.62" y2="246.20" stroke="#555" stroke-width="0.45"/>
<line x1="52.61" y1="244.80" x2="52.61" y2="246.20" stroke="#555" stroke-width="0.45"/>
<line x1="59.33" y1="244.80" x2="59.33" y2="246.20" stroke="#555" stroke-width="0.45"/>
<line x1="62.74" y1="244.80" x2="62.74" y2="246.20" stroke="#555" stroke-width="0.45"/>
<line x1="65.16" y1="244.80" x2="65.16" y2="246.20" stroke="#555" stroke-width="0.45"/>
<line x1="67.04" y1="244.80" x2="67.04" y2="246.20" stroke="#555" stroke-width="0.45"/>
<line x1="68.58" y1="244.80" x2="68.58" y2="246.20" stroke="#555" stroke-width="0.45"/>
<line x1="69.87" y1="244.80" x2="69.87" y2="246.20" stroke="#555" stroke-width="0.45"/>
<line x1="71.00" y1="244.80" x2="71.00" y2="246.20" stroke="#555" stroke-width="0.45"/>
<line x1="71.99" y1="244.80" x2="71.99" y2="246.20" stroke="#555" stroke-width="0.45"/>
<line x1="78.71" y1="244.80" x2="78.71" y2="246.20" stroke="#555" stroke-width="0.45"/>
<line x1="82.12" y1="244.80" x2="82.12" y2="246.20" stroke="#555" stroke-width="0.45"/>
<line x1="84.54" y1="244.80" x2="84.54" y2="246.20" stroke="#555" stroke-width="0.45"/>
<line x1="86.42" y1="244.80" x2="86.42" y2="246.20" stroke="#555" stroke-width="0.45"/>
<line x1="87.95" y1="244.80" x2="87.95" y2="246.20" stroke="#555" stroke-width="0.45"/>
<line x1="89.25" y1="244.80" x2="89.25" y2="246.20" stroke="#555" stroke-width="0.45"/>
<line x1="90.37" y1="244.80" x2="90.37" y2="246.20" stroke="#555" stroke-width="0.45"/>
<line x1="91.36" y1="244.80" x2="91.36" y2="246.20" stroke="#555" stroke-width="0.45"/>
<line x1="98.08" y1="244.80" x2="98.08" y2="246.20" stroke="#555" stroke-width="0.45"/>
<line x1="101.49" y1="244.80" x2="101.49" y2="246.20" stroke="#555" stroke-width="0.45"/>
<line x1="103.91" y1="244.80" x2="103.91" y2="246.20" stroke="#555" stroke-width="0.45"/>
<line x1="105.79" y1="244.80" x2="105.79" y2="246.20" stroke="#555" stroke-width="0.45"/>
<line x1="107.33" y1="244.80" x2="107.33" y2="246.20" stroke="#555" stroke-width="0.45"/>
<line x1="108.62" y1="244.80" x2="108.62" y2="246.20" stroke="#555" stroke-width="0.45"/>
<line x1="109.75" y1="244.80" x2="109.75" y2="246.20" stroke="#555" stroke-width="0.45"/>
<line x1="110.74" y1="244.80" x2="110.74" y2="246.20" stroke="#555" stroke-width="0.45"/>
<line x1="117.46" y1="244.80" x2="117.46" y2="246.20" stroke="#555" stroke-width="0.45"/>
<line x1="120.87" y1="244.80" x2="120.87" y2="246.20" stroke="#555" stroke-width="0.45"/>
<line x1="123.29" y1="244.80" x2="123.29" y2="246.20" stroke="#555" stroke-width="0.45"/>
<line x1="125.17" y1="244.80" x2="125.17" y2="246.20" stroke="#555" stroke-width="0.45"/>
<line x1="126.70" y1="244.80" x2="126.70" y2="246.20" stroke="#555" stroke-width="0.45"/>
<line x1="128.00" y1="244.80" x2="128.00" y2="246.20" stroke="#555" stroke-width="0.45"/>
<line x1="129.12" y1="244.80" x2="129.12" y2="246.20" stroke="#555" stroke-width="0.45"/>
<line x1="130.11" y1="244.80" x2="130.11" y2="246.20" stroke="#555" stroke-width="0.45"/>
<line x1="136.83" y1="244.80" x2="136.83" y2="246.20" stroke="#555" stroke-width="0.45"/>
<line x1="142.35" y1="244.90" x2="231.65" y2="244.90" stroke="#3c3c3c" stroke-width="1.0"/>
<line x1="147.30" y1="244.80" x2="147.30" y2="247.30" stroke="#444" stroke-width="0.6"/>
<text x="147.30" y="254.40" font-size="5.0" text-anchor="middle" class="tk" fill="#6a6a6a">10<tspan dy="-2.1" font-size="3.90">0</tspan></text>
<line x1="165.90" y1="244.80" x2="165.90" y2="247.30" stroke="#444" stroke-width="0.6"/>
<text x="165.90" y="254.40" font-size="5.0" text-anchor="middle" class="tk" fill="#6a6a6a">10<tspan dy="-2.1" font-size="3.90">1</tspan></text>
<line x1="186.30" y1="244.80" x2="186.30" y2="247.30" stroke="#444" stroke-width="0.6"/>
<text x="186.30" y="254.40" font-size="5.0" text-anchor="middle" class="tk" fill="#6a6a6a">10<tspan dy="-2.1" font-size="3.90">2</tspan></text>
<line x1="206.90" y1="244.80" x2="206.90" y2="247.30" stroke="#444" stroke-width="0.6"/>
<text x="206.90" y="254.40" font-size="5.0" text-anchor="middle" class="tk" fill="#6a6a6a">10<tspan dy="-2.1" font-size="3.90">3</tspan></text>
<line x1="224.30" y1="244.80" x2="224.30" y2="247.30" stroke="#444" stroke-width="0.6"/>
<text x="224.30" y="254.40" font-size="5.0" text-anchor="middle" class="tk" fill="#6a6a6a">10<tspan dy="-2.1" font-size="3.90">4</tspan></text>
<line x1="144.32" y1="244.80" x2="144.32" y2="246.20" stroke="#555" stroke-width="0.45"/>
<line x1="145.43" y1="244.80" x2="145.43" y2="246.20" stroke="#555" stroke-width="0.45"/>
<line x1="146.42" y1="244.80" x2="146.42" y2="246.20" stroke="#555" stroke-width="0.45"/>
<line x1="153.09" y1="244.80" x2="153.09" y2="246.20" stroke="#555" stroke-width="0.45"/>
<line x1="156.48" y1="244.80" x2="156.48" y2="246.20" stroke="#555" stroke-width="0.45"/>
<line x1="158.89" y1="244.80" x2="158.89" y2="246.20" stroke="#555" stroke-width="0.45"/>
<line x1="160.76" y1="244.80" x2="160.76" y2="246.20" stroke="#555" stroke-width="0.45"/>
<line x1="162.28" y1="244.80" x2="162.28" y2="246.20" stroke="#555" stroke-width="0.45"/>
<line x1="163.57" y1="244.80" x2="163.57" y2="246.20" stroke="#555" stroke-width="0.45"/>
<line x1="164.68" y1="244.80" x2="164.68" y2="246.20" stroke="#555" stroke-width="0.45"/>
<line x1="165.67" y1="244.80" x2="165.67" y2="246.20" stroke="#555" stroke-width="0.45"/>
<line x1="172.34" y1="244.80" x2="172.34" y2="246.20" stroke="#555" stroke-width="0.45"/>
<line x1="175.73" y1="244.80" x2="175.73" y2="246.20" stroke="#555" stroke-width="0.45"/>
<line x1="178.14" y1="244.80" x2="178.14" y2="246.20" stroke="#555" stroke-width="0.45"/>
<line x1="180.01" y1="244.80" x2="180.01" y2="246.20" stroke="#555" stroke-width="0.45"/>
<line x1="181.53" y1="244.80" x2="181.53" y2="246.20" stroke="#555" stroke-width="0.45"/>
<line x1="182.82" y1="244.80" x2="182.82" y2="246.20" stroke="#555" stroke-width="0.45"/>
<line x1="183.93" y1="244.80" x2="183.93" y2="246.20" stroke="#555" stroke-width="0.45"/>
<line x1="184.92" y1="244.80" x2="184.92" y2="246.20" stroke="#555" stroke-width="0.45"/>
<line x1="191.59" y1="244.80" x2="191.59" y2="246.20" stroke="#555" stroke-width="0.45"/>
<line x1="194.98" y1="244.80" x2="194.98" y2="246.20" stroke="#555" stroke-width="0.45"/>
<line x1="197.39" y1="244.80" x2="197.39" y2="246.20" stroke="#555" stroke-width="0.45"/>
<line x1="199.26" y1="244.80" x2="199.26" y2="246.20" stroke="#555" stroke-width="0.45"/>
<line x1="200.78" y1="244.80" x2="200.78" y2="246.20" stroke="#555" stroke-width="0.45"/>
<line x1="202.07" y1="244.80" x2="202.07" y2="246.20" stroke="#555" stroke-width="0.45"/>
<line x1="203.18" y1="244.80" x2="203.18" y2="246.20" stroke="#555" stroke-width="0.45"/>
<line x1="204.17" y1="244.80" x2="204.17" y2="246.20" stroke="#555" stroke-width="0.45"/>
<line x1="210.84" y1="244.80" x2="210.84" y2="246.20" stroke="#555" stroke-width="0.45"/>
<line x1="214.23" y1="244.80" x2="214.23" y2="246.20" stroke="#555" stroke-width="0.45"/>
<line x1="216.64" y1="244.80" x2="216.64" y2="246.20" stroke="#555" stroke-width="0.45"/>
<line x1="218.51" y1="244.80" x2="218.51" y2="246.20" stroke="#555" stroke-width="0.45"/>
<line x1="220.03" y1="244.80" x2="220.03" y2="246.20" stroke="#555" stroke-width="0.45"/>
<line x1="221.32" y1="244.80" x2="221.32" y2="246.20" stroke="#555" stroke-width="0.45"/>
<line x1="222.43" y1="244.80" x2="222.43" y2="246.20" stroke="#555" stroke-width="0.45"/>
<line x1="223.42" y1="244.80" x2="223.42" y2="246.20" stroke="#555" stroke-width="0.45"/>
<line x1="230.09" y1="244.80" x2="230.09" y2="246.20" stroke="#555" stroke-width="0.45"/>
<text transform="translate(3.50 241.10) rotate(-90)" x="0" y="2.88" font-size="8.0" text-anchor="middle">Counts</text>
<path d="M14.50 240.90 L14.50 256.40 L30.60 256.40" fill="none" stroke="#1a1a1a" stroke-width="0.85"/>
<path d="M14.50 239.40 l-2.9 4.8 l2.9 -1.5 l2.9 1.5 Z" fill="#1a1a1a"/>
<path d="M32.10 256.40 l-4.8 -2.9 l1.5 2.9 l-1.5 2.9 Z" fill="#1a1a1a"/>
<text x="19.00" y="269.75" font-size="8.2">CFSE-A</text>
</g>
<g id="panelC">
<text x="258.00" y="129.90" font-size="12.5" font-weight="bold">C</text>
<text x="389.00" y="129.88" font-size="8" text-anchor="middle">Lymphocyte degranulation assay</text>
<text x="343.50" y="145.28" font-size="8" text-anchor="middle">Normal</text>
<text x="343.50" y="153.88" font-size="8" text-anchor="middle">microenvironment</text>
<text x="436.30" y="143.88" font-size="8" text-anchor="middle">Tumor</text>
<text x="436.50" y="152.48" font-size="8" text-anchor="middle">microenvironment</text>
<rect x="299.20" y="159.40" width="86.70" height="84.00" fill="#fff" stroke="#7e7e7e" stroke-width="0.9"/>
<rect x="392.40" y="159.40" width="87.00" height="84.00" fill="#fff" stroke="#7e7e7e" stroke-width="0.9"/>
<path d="M299.20 193.66 L299.60 192.66 L300.00 193.13 L300.40 192.78 L300.80 191.31 L301.20 190.75 L301.60 191.04 L302.00 190.52 L302.40 189.02 L302.80 188.65 L303.20 188.88 L303.60 187.22 L304.00 187.57 L304.40 186.71 L304.80 186.19 L305.20 186.10 L305.60 185.00 L306.00 185.73 L306.40 185.10 L306.80 185.50 L307.20 183.86 L307.60 184.36 L308.00 183.63 L308.40 182.31 L308.80 181.15 L309.20 181.66 L309.60 179.80 L310.00 178.39 L310.40 178.27 L310.80 176.48 L311.20 176.07 L311.60 175.59 L312.00 175.24 L312.40 174.79 L312.80 173.30 L313.20 173.36 L313.60 172.06 L314.00 171.49 L314.40 172.54 L314.80 172.18 L315.20 172.55 L315.60 171.20 L316.00 170.29 L316.40 169.90 L316.80 171.26 L317.20 171.43 L317.60 173.55 L318.00 173.62 L318.40 175.13 L318.80 177.45 L319.20 177.45 L319.60 178.36 L320.00 180.83 L320.40 181.54 L320.80 183.89 L321.20 185.29 L321.60 186.71 L322.00 187.99 L322.40 190.54 L322.80 192.06 L323.20 192.80 L323.60 193.01 L324.00 192.70 L324.40 192.86 L324.80 194.03 L325.20 193.94 L325.60 194.84 L326.00 195.68 L326.40 195.64 L326.80 195.23 L327.20 195.17 L327.60 195.85 L328.00 195.88 L328.40 196.73 L328.80 197.28 L329.20 196.73 L329.60 196.85 L330.00 197.52 L330.40 197.73 L330.80 197.42 L331.20 198.08 L331.60 198.31 L332.00 197.82 L332.40 198.21 L332.80 198.26 L333.20 198.31 L333.60 198.32 L334.00 198.53 L334.40 198.72 L334.80 198.31 L335.20 198.19 L335.60 197.98 L336.00 198.77 L336.40 199.08 L336.80 198.61 L337.20 198.91 L337.60 198.64 L338.00 198.97 L338.40 199.08 L338.80 198.91 L339.20 199.06 L339.60 199.06 L340.00 199.50 L340.40 199.03 L340.80 199.01 L341.20 199.33 L341.60 199.32 L342.00 199.19 L342.40 198.90 L342.80 199.52 L343.20 199.10 L343.60 199.18 L344.00 199.68 L344.40 199.68 L344.80 199.40 L345.20 199.76" fill="none" stroke="#242424" stroke-width="0.8" stroke-linejoin="round" stroke-linecap="round"/>
<path d="M345.20 199.76 L345.60 199.58" fill="none" stroke="#5e5e5e" stroke-width="0.68"/>
<path d="M345.60 199.58 L346.00 199.52 L346.40 199.49 L346.80 199.91" fill="none" stroke="#242424" stroke-width="0.8" stroke-linejoin="round" stroke-linecap="round"/>
<path d="M346.80 199.91 L347.60 199.52" fill="none" stroke="#5e5e5e" stroke-width="0.68"/>
<path d="M347.60 199.52 L348.00 199.84" fill="none" stroke="#242424" stroke-width="0.8" stroke-linejoin="round" stroke-linecap="round"/>
<path d="M348.00 199.84 L349.60 199.73" fill="none" stroke="#5e5e5e" stroke-width="0.68"/>
<path d="M349.60 199.73 L350.00 199.53 L350.40 199.73 L350.80 199.72 L351.20 199.74 L351.60 199.72 L352.00 199.81 L352.40 199.88" fill="none" stroke="#242424" stroke-width="0.8" stroke-linejoin="round" stroke-linecap="round"/>
<path d="M352.40 199.88 L353.20 199.79" fill="none" stroke="#5e5e5e" stroke-width="0.68"/>
<path d="M353.20 199.79 L353.60 199.72 L354.00 199.82 L354.40 199.80 L354.80 199.87" fill="none" stroke="#242424" stroke-width="0.8" stroke-linejoin="round" stroke-linecap="round"/>
<path d="M354.80 199.87 L355.20 199.86" fill="none" stroke="#5e5e5e" stroke-width="0.68"/>
<path d="M355.20 199.86 L355.60 199.89" fill="none" stroke="#242424" stroke-width="0.8" stroke-linejoin="round" stroke-linecap="round"/>
<path d="M355.60 199.89 L356.40 199.83" fill="none" stroke="#5e5e5e" stroke-width="0.68"/>
<path d="M356.40 199.83 L356.80 199.81 L357.20 199.80 L357.60 199.82 L358.00 199.89 L358.40 199.97" fill="none" stroke="#242424" stroke-width="0.8" stroke-linejoin="round" stroke-linecap="round"/>
<path d="M358.40 199.97 L385.20 200.50" fill="none" stroke="#5e5e5e" stroke-width="0.68"/>
<path d="M299.20 216.16 L299.60 216.54 L300.00 216.83 L300.40 215.98 L300.80 216.00 L301.20 215.85 L301.60 215.92 L302.00 216.12 L302.40 215.66 L302.80 215.56 L303.20 215.12 L303.60 214.79 L304.00 213.93 L304.40 213.62 L304.80 213.51 L305.20 213.14 L305.60 211.62 L306.00 211.34 L306.40 209.94 L306.80 208.85 L307.20 208.87 L307.60 207.09 L308.00 207.17 L308.40 205.19 L308.80 203.82 L309.20 203.93 L309.60 202.57 L310.00 201.55 L310.40 202.13 L310.80 201.12 L311.20 201.64 L311.60 200.07 L312.00 199.60 L312.40 198.54 L312.80 199.80 L313.20 199.62 L313.60 198.62 L314.00 197.90 L314.40 198.28 L314.80 196.65 L315.20 195.73 L315.60 196.34 L316.00 196.80 L316.40 195.60 L316.80 195.34 L317.20 194.27 L317.60 193.58 L318.00 192.93 L318.40 193.13 L318.80 192.79 L319.20 192.00 L319.60 191.62 L320.00 193.01 L320.40 193.60 L320.80 194.99 L321.20 195.74 L321.60 197.06 L322.00 198.31 L322.40 199.31 L322.80 200.00 L323.20 200.47 L323.60 199.05 L324.00 198.77 L324.40 199.39 L324.80 201.40 L325.20 201.27 L325.60 202.13 L326.00 200.84 L326.40 200.58 L326.80 200.14 L327.20 200.10 L327.60 200.33 L328.00 199.30 L328.40 198.30 L328.80 199.12 L329.20 198.75 L329.60 197.43 L330.00 196.41 L330.40 196.07 L330.80 195.27 L331.20 192.91 L331.60 192.94 L332.00 193.20 L332.40 192.77 L332.80 194.25 L333.20 194.12 L333.60 195.79 L334.00 195.80 L334.40 197.56 L334.80 197.47 L335.20 197.48 L335.60 197.37 L336.00 198.36 L336.40 198.89 L336.80 199.43 L337.20 199.42 L337.60 198.36 L338.00 199.27 L338.40 199.41 L338.80 198.85 L339.20 199.63 L339.60 200.06 L340.00 201.09 L340.40 201.20 L340.80 203.01 L341.20 202.98 L341.60 204.58 L342.00 205.56 L342.40 206.42 L342.80 207.14 L343.20 206.77 L343.60 206.89 L344.00 207.23 L344.40 209.02 L344.80 209.09 L345.20 208.71 L345.60 209.25 L346.00 209.93 L346.40 210.22 L346.80 211.37 L347.20 211.22 L347.60 211.29 L348.00 212.74 L348.40 212.99 L348.80 213.23 L349.20 213.98 L349.60 214.09 L350.00 214.06 L350.40 214.36 L350.80 215.63 L351.20 216.68 L351.60 216.43 L352.00 216.76 L352.40 216.77 L352.80 216.86 L353.20 217.75 L353.60 217.91 L354.00 218.44 L354.40 218.19 L354.80 218.29 L355.20 218.96 L355.60 219.08 L356.00 219.10 L356.40 219.58 L356.80 219.92 L357.20 219.80 L357.60 220.20 L358.00 219.97 L358.40 219.42 L358.80 219.29 L359.20 220.06 L359.60 219.66 L360.00 219.60 L360.40 219.60 L360.80 220.31 L361.20 219.94 L361.60 220.34 L362.00 219.95 L362.40 220.25 L362.80 220.37 L363.20 220.65 L363.60 220.11 L364.00 220.50 L364.40 220.07 L364.80 220.22 L365.20 220.67 L365.60 220.42 L366.00 220.43 L366.40 220.94 L366.80 220.44 L367.20 220.73 L367.60 221.13 L368.00 220.64 L368.40 220.44 L368.80 220.68 L369.20 221.00 L369.60 220.86 L370.00 220.75 L370.40 220.61 L370.80 220.75 L371.20 220.76 L371.60 220.64 L372.00 221.08 L372.40 221.33 L372.80 221.19 L373.20 220.91 L373.60 220.75 L374.00 220.65 L374.40 220.98 L374.80 220.93 L375.20 221.44 L375.60 221.48 L376.00 221.78" fill="none" stroke="#242424" stroke-width="0.8" stroke-linejoin="round" stroke-linecap="round"/>
<path d="M376.00 221.78 L376.40 221.32" fill="none" stroke="#5e5e5e" stroke-width="0.68"/>
<path d="M376.40 221.32 L376.80 220.98 L377.20 221.11 L377.60 221.13 L378.00 221.45 L378.40 221.31 L378.80 221.80" fill="none" stroke="#242424" stroke-width="0.8" stroke-linejoin="round" stroke-linecap="round"/>
<path d="M378.80 221.80 L379.20 221.70" fill="none" stroke="#5e5e5e" stroke-width="0.68"/>
<path d="M379.20 221.70 L379.60 221.74" fill="none" stroke="#242424" stroke-width="0.8" stroke-linejoin="round" stroke-linecap="round"/>
<path d="M379.60 221.74 L380.00 221.69" fill="none" stroke="#5e5e5e" stroke-width="0.68"/>
<path d="M380.00 221.69 L380.40 221.80" fill="none" stroke="#242424" stroke-width="0.8" stroke-linejoin="round" stroke-linecap="round"/>
<path d="M380.40 221.80 L385.20 222.00" fill="none" stroke="#5e5e5e" stroke-width="0.68"/>
<path d="M299.20 243.00 L314.40 242.76" fill="none" stroke="#5e5e5e" stroke-width="0.68"/>
<path d="M314.40 242.76 L314.80 242.67 L315.20 242.33 L315.60 242.71 L316.00 242.71 L316.40 242.59 L316.80 242.65 L317.20 242.46 L317.60 242.40 L318.00 242.08 L318.40 241.43 L318.80 241.23 L319.20 240.96 L319.60 240.83 L320.00 240.51 L320.40 239.27 L320.80 238.61 L321.20 237.90 L321.60 237.71 L322.00 236.36 L322.40 235.88 L322.80 234.65 L323.20 232.35 L323.60 231.13 L324.00 230.01 L324.40 228.54 L324.80 226.79 L325.20 225.32 L325.60 224.93 L326.00 224.38 L326.40 222.76 L326.80 221.37 L327.20 220.20 L327.60 217.34 L328.00 215.47 L328.40 215.38 L328.80 214.04 L329.20 213.57 L329.60 211.74 L330.00 211.77 L330.40 212.06 L330.80 212.08 L331.20 211.16 L331.60 211.38 L332.00 210.57 L332.40 209.28 L332.80 209.86 L333.20 210.62 L333.60 209.13 L334.00 209.99 L334.40 211.86 L334.80 213.23 L335.20 214.03 L335.60 213.48 L336.00 213.19 L336.40 214.39 L336.80 216.33 L337.20 217.12 L337.60 216.77 L338.00 218.40 L338.40 218.90 L338.80 220.11 L339.20 223.30 L339.60 224.11 L340.00 225.31 L340.40 226.80 L340.80 228.66 L341.20 229.46 L341.60 231.36 L342.00 232.18 L342.40 232.97 L342.80 232.96 L343.20 233.47 L343.60 235.03 L344.00 235.73 L344.40 236.84 L344.80 236.61 L345.20 236.82 L345.60 237.93 L346.00 238.19 L346.40 238.51 L346.80 239.40 L347.20 239.21 L347.60 239.51 L348.00 239.47 L348.40 239.81 L348.80 240.66 L349.20 240.77 L349.60 241.23 L350.00 240.51 L350.40 240.26 L350.80 240.25 L351.20 240.85 L351.60 241.45 L352.00 240.92 L352.40 240.63 L352.80 241.40 L353.20 241.40 L353.60 241.85 L354.00 241.40 L354.40 241.20 L354.80 241.75 L355.20 241.71 L355.60 241.63 L356.00 241.90 L356.40 241.46 L356.80 241.71 L357.20 242.05 L357.60 241.94 L358.00 241.73 L358.40 242.15 L358.80 242.28 L359.20 241.75 L359.60 241.83 L360.00 242.09 L360.40 242.17 L360.80 242.57 L361.20 242.70 L361.60 242.69 L362.00 242.49 L362.40 242.70 L362.80 242.83" fill="none" stroke="#242424" stroke-width="0.8" stroke-linejoin="round" stroke-linecap="round"/>
<path d="M362.80 242.83 L363.60 242.69" fill="none" stroke="#5e5e5e" stroke-width="0.68"/>
<path d="M363.60 242.69 L364.00 242.85" fill="none" stroke="#242424" stroke-width="0.8" stroke-linejoin="round" stroke-linecap="round"/>
<path d="M364.00 242.85 L364.40 242.42" fill="none" stroke="#5e5e5e" stroke-width="0.68"/>
<path d="M364.40 242.42 L364.80 242.25 L365.20 242.79" fill="none" stroke="#242424" stroke-width="0.8" stroke-linejoin="round" stroke-linecap="round"/>
<path d="M365.20 242.79 L366.00 242.70" fill="none" stroke="#5e5e5e" stroke-width="0.68"/>
<path d="M366.00 242.70 L366.40 242.77 L366.80 242.83" fill="none" stroke="#242424" stroke-width="0.8" stroke-linejoin="round" stroke-linecap="round"/>
<path d="M366.80 242.83 L367.20 242.74" fill="none" stroke="#5e5e5e" stroke-width="0.68"/>
<path d="M367.20 242.74 L367.60 242.76 L368.00 242.80" fill="none" stroke="#242424" stroke-width="0.8" stroke-linejoin="round" stroke-linecap="round"/>
<path d="M368.00 242.80 L385.20 243.00" fill="none" stroke="#5e5e5e" stroke-width="0.68"/>
<path d="M392.40 200.30 L392.80 193.16" fill="none" stroke="#5e5e5e" stroke-width="0.68"/>
<path d="M392.80 193.16 L393.20 191.87 L393.60 191.70 L394.00 191.16 L394.40 189.99 L394.80 190.77 L395.20 190.60 L395.60 189.64 L396.00 189.88 L396.40 189.64 L396.80 188.06 L397.20 186.71 L397.60 186.98 L398.00 187.13 L398.40 185.52 L398.80 185.71 L399.20 185.07 L399.60 184.51 L400.00 183.94 L400.40 182.86 L400.80 181.97 L401.20 181.83 L401.60 181.22 L402.00 180.69 L402.40 180.42 L402.80 180.34 L403.20 180.31 L403.60 179.80 L404.00 177.66 L404.40 176.68 L404.80 177.01 L405.20 174.87 L405.60 174.95 L406.00 173.89 L406.40 173.82 L406.80 174.14 L407.20 174.35 L407.60 173.45 L408.00 173.21 L408.40 172.25 L408.80 171.22 L409.20 170.08 L409.60 169.25 L410.00 169.45 L410.40 169.26 L410.80 171.21 L411.20 172.07 L411.60 173.29 L412.00 174.60 L412.40 177.61 L412.80 178.86 L413.20 180.33 L413.60 182.71 L414.00 184.06 L414.40 185.16 L414.80 187.44 L415.20 189.26 L415.60 189.65 L416.00 190.45 L416.40 190.22 L416.80 190.63 L417.20 191.16 L417.60 191.76 L418.00 193.23 L418.40 193.46 L418.80 194.69 L419.20 195.40 L419.60 195.56 L420.00 195.98 L420.40 196.61 L420.80 196.43 L421.20 195.89 L421.60 196.86 L422.00 197.22 L422.40 196.62 L422.80 196.86 L423.20 197.11 L423.60 197.33 L424.00 197.01 L424.40 197.30 L424.80 197.56 L425.20 197.76 L425.60 197.43 L426.00 198.15 L426.40 198.06 L426.80 197.82 L427.20 198.44 L427.60 198.43 L428.00 198.43 L428.40 198.13 L428.80 198.15 L429.20 198.22 L429.60 198.50 L430.00 198.53 L430.40 198.06 L430.80 198.71 L431.20 199.08 L431.60 199.22 L432.00 199.43 L432.40 199.47 L432.80 199.34 L433.20 198.87 L433.60 198.45 L434.00 199.20 L434.40 199.12 L434.80 199.35 L435.20 198.85 L435.60 198.52 L436.00 198.67 L436.40 199.40 L436.80 199.33 L437.20 199.37 L437.60 199.31 L438.00 199.59 L438.40 199.92 L438.80 199.57 L439.20 199.21 L439.60 199.49 L440.00 199.61 L440.40 199.98 L440.80 199.74 L441.20 199.38 L441.60 199.52 L442.00 199.91 L442.40 200.13 L442.80 199.61 L443.20 199.48 L443.60 199.83 L444.00 199.78 L444.40 200.11 L444.80 199.91 L445.20 200.27" fill="none" stroke="#242424" stroke-width="0.8" stroke-linejoin="round" stroke-linecap="round"/>
<path d="M445.20 200.27 L445.60 200.23" fill="none" stroke="#5e5e5e" stroke-width="0.68"/>
<path d="M445.60 200.23 L446.00 200.07 L446.40 200.01 L446.80 200.14 L447.20 199.90 L447.60 200.14 L448.00 199.83 L448.40 199.64 L448.80 199.77 L449.20 199.53 L449.60 199.99 L450.00 199.64 L450.40 200.21 L450.80 200.10 L451.20 200.35" fill="none" stroke="#242424" stroke-width="0.8" stroke-linejoin="round" stroke-linecap="round"/>
<path d="M451.20 200.35 L453.60 200.04" fill="none" stroke="#5e5e5e" stroke-width="0.68"/>
<path d="M453.60 200.04 L454.00 199.88 L454.40 199.90 L454.80 199.70 L455.20 199.96 L455.60 199.90 L456.00 199.77 L456.40 200.17 L456.80 200.21 L457.20 200.30 L457.60 200.21 L458.00 200.27 L458.40 200.34" fill="none" stroke="#242424" stroke-width="0.8" stroke-linejoin="round" stroke-linecap="round"/>
<path d="M458.40 200.34 L459.20 200.29" fill="none" stroke="#5e5e5e" stroke-width="0.68"/>
<path d="M459.20 200.29 L459.60 200.34" fill="none" stroke="#242424" stroke-width="0.8" stroke-linejoin="round" stroke-linecap="round"/>
<path d="M459.60 200.34 L460.00 200.31" fill="none" stroke="#5e5e5e" stroke-width="0.68"/>
<path d="M460.00 200.31 L460.40 200.30 L460.80 200.26 L461.20 200.26 L461.60 200.25 L462.00 200.36" fill="none" stroke="#242424" stroke-width="0.8" stroke-linejoin="round" stroke-linecap="round"/>
<path d="M462.00 200.36 L478.80 200.60" fill="none" stroke="#5e5e5e" stroke-width="0.68"/>
<path d="M392.40 221.50 L392.80 214.29" fill="none" stroke="#5e5e5e" stroke-width="0.68"/>
<path d="M392.80 214.29 L393.20 214.73 L393.60 213.98 L394.00 214.53 L394.40 214.35 L394.80 213.70 L395.20 214.15 L395.60 213.41 L396.00 213.24 L396.40 213.27 L396.80 212.96 L397.20 212.62 L397.60 212.26 L398.00 210.39 L398.40 209.83 L398.80 208.02 L399.20 206.66 L399.60 206.76 L400.00 205.85 L400.40 204.81 L400.80 203.95 L401.20 205.22 L401.60 205.21 L402.00 205.94 L402.40 205.50 L402.80 204.31 L403.20 202.88 L403.60 202.21 L404.00 199.79 L404.40 198.67 L404.80 196.31 L405.20 195.18 L405.60 193.12 L406.00 191.90 L406.40 191.68 L406.80 191.50 L407.20 191.36 L407.60 191.76 L408.00 192.84 L408.40 191.18 L408.80 191.39 L409.20 192.40 L409.60 191.72 L410.00 191.36 L410.40 191.81 L410.80 190.84 L411.20 193.38 L411.60 193.58 L412.00 195.13 L412.40 197.23 L412.80 198.44 L413.20 199.39 L413.60 201.12 L414.00 201.07 L414.40 201.76 L414.80 201.89 L415.20 202.71 L415.60 203.60 L416.00 204.03 L416.40 204.78 L416.80 206.03 L417.20 207.07 L417.60 207.74 L418.00 207.67 L418.40 207.57 L418.80 207.80 L419.20 208.01 L419.60 209.65 L420.00 209.86 L420.40 210.64 L420.80 210.21 L421.20 210.08 L421.60 210.11 L422.00 209.68 L422.40 210.63 L422.80 210.32 L423.20 210.48 L423.60 211.28 L424.00 210.45 L424.40 211.68 L424.80 211.68 L425.20 211.63 L425.60 211.59 L426.00 211.00 L426.40 211.50 L426.80 211.27 L427.20 212.20 L427.60 212.44 L428.00 213.16 L428.40 212.80 L428.80 213.04 L429.20 212.65 L429.60 213.59 L430.00 213.58 L430.40 212.87 L430.80 214.06 L431.20 213.73 L431.60 213.61 L432.00 213.56 L432.40 213.87 L432.80 214.20 L433.20 213.77 L433.60 214.65 L434.00 214.57 L434.40 214.68 L434.80 214.74 L435.20 215.23 L435.60 216.22 L436.00 215.73 L436.40 216.26 L436.80 215.91 L437.20 215.54 L437.60 215.73 L438.00 216.41 L438.40 216.23 L438.80 216.85 L439.20 217.31 L439.60 217.29 L440.00 217.23 L440.40 217.22 L440.80 217.43 L441.20 217.75 L441.60 217.52 L442.00 217.95 L442.40 217.85 L442.80 218.56 L443.20 218.79 L443.60 218.02 L444.00 218.46 L444.40 218.46 L444.80 218.91 L445.20 218.30 L445.60 218.54 L446.00 219.01 L446.40 218.99 L446.80 218.21 L447.20 218.05 L447.60 218.88 L448.00 218.18 L448.40 218.89 L448.80 218.77 L449.20 218.66 L449.60 218.33 L450.00 218.92 L450.40 218.43 L450.80 218.84 L451.20 218.51 L451.60 218.13 L452.00 218.34 L452.40 219.14 L452.80 218.77 L453.20 218.86 L453.60 218.58 L454.00 218.38 L454.40 219.07 L454.80 218.90 L455.20 218.74 L455.60 218.34 L456.00 218.52 L456.40 218.62 L456.80 218.52 L457.20 219.17 L457.60 218.74 L458.00 218.88 L458.40 218.94 L458.80 219.56 L459.20 219.51 L459.60 219.67 L460.00 220.03 L460.40 219.49 L460.80 219.39 L461.20 219.80 L461.60 220.47 L462.00 219.98 L462.40 220.67 L462.80 220.72 L463.20 220.77 L463.60 220.59 L464.00 220.71 L464.40 220.83 L464.80 220.98 L465.20 220.68 L465.60 220.69 L466.00 221.09 L466.40 220.96 L466.80 220.79 L467.20 221.09 L467.60 221.57" fill="none" stroke="#242424" stroke-width="0.8" stroke-linejoin="round" stroke-linecap="round"/>
<path d="M467.60 221.57 L468.40 221.28" fill="none" stroke="#5e5e5e" stroke-width="0.68"/>
<path d="M468.40 221.28 L468.80 221.60" fill="none" stroke="#242424" stroke-width="0.8" stroke-linejoin="round" stroke-linecap="round"/>
<path d="M468.80 221.60 L469.20 221.44" fill="none" stroke="#5e5e5e" stroke-width="0.68"/>
<path d="M469.20 221.44 L469.60 221.54 L470.00 221.60" fill="none" stroke="#242424" stroke-width="0.8" stroke-linejoin="round" stroke-linecap="round"/>
<path d="M470.00 221.60 L478.80 221.80" fill="none" stroke="#5e5e5e" stroke-width="0.68"/>
<path d="M392.40 243.00 L400.40 242.37" fill="none" stroke="#5e5e5e" stroke-width="0.68"/>
<path d="M400.40 242.37 L400.80 242.33 L401.20 241.86 L401.60 241.49 L402.00 241.20 L402.40 240.89 L402.80 240.98 L403.20 240.80 L403.60 240.36 L404.00 240.35 L404.40 240.65 L404.80 240.24 L405.20 239.85 L405.60 239.86 L406.00 239.75 L406.40 239.34 L406.80 238.20 L407.20 237.17 L407.60 236.58 L408.00 236.28 L408.40 236.40 L408.80 236.17 L409.20 234.67 L409.60 233.73 L410.00 232.95 L410.40 232.61 L410.80 232.09 L411.20 231.27 L411.60 230.49 L412.00 228.71 L412.40 227.82 L412.80 226.32 L413.20 225.28 L413.60 223.99 L414.00 222.45 L414.40 221.09 L414.80 221.31 L415.20 219.19 L415.60 217.96 L416.00 217.06 L416.40 217.08 L416.80 215.63 L417.20 215.00 L417.60 215.92 L418.00 215.21 L418.40 214.35 L418.80 214.05 L419.20 213.44 L419.60 213.91 L420.00 213.66 L420.40 214.80 L420.80 213.74 L421.20 214.28 L421.60 212.97 L422.00 211.76 L422.40 212.43 L422.80 213.57 L423.20 214.32 L423.60 213.67 L424.00 214.37 L424.40 213.37 L424.80 213.22 L425.20 213.35 L425.60 212.82 L426.00 213.66 L426.40 213.15 L426.80 213.79 L427.20 212.80 L427.60 211.75 L428.00 212.95 L428.40 212.38 L428.80 211.51 L429.20 212.90 L429.60 214.00 L430.00 214.51 L430.40 213.38 L430.80 214.70 L431.20 213.70 L431.60 214.52 L432.00 213.79 L432.40 213.21 L432.80 213.19 L433.20 215.02 L433.60 215.37 L434.00 216.40 L434.40 215.89 L434.80 217.28 L435.20 218.56 L435.60 218.98 L436.00 220.26 L436.40 220.94 L436.80 220.58 L437.20 221.64 L437.60 222.95 L438.00 222.45 L438.40 224.08 L438.80 224.15 L439.20 224.74 L439.60 225.61 L440.00 226.16 L440.40 226.86 L440.80 226.98 L441.20 227.58 L441.60 228.92 L442.00 229.10 L442.40 229.68 L442.80 229.43 L443.20 230.96 L443.60 231.32 L444.00 230.79 L444.40 232.28 L444.80 232.05 L445.20 231.81 L445.60 232.36 L446.00 233.72 L446.40 233.39 L446.80 234.26 L447.20 234.48 L447.60 234.34 L448.00 235.26 L448.40 236.01 L448.80 236.74 L449.20 236.93 L449.60 237.52 L450.00 237.10 L450.40 236.85 L450.80 237.94 L451.20 237.96 L451.60 237.74 L452.00 237.78 L452.40 238.59 L452.80 238.77 L453.20 238.78 L453.60 239.10 L454.00 238.78 L454.40 238.85 L454.80 238.92 L455.20 240.03 L455.60 240.77 L456.00 240.58 L456.40 240.58 L456.80 241.01 L457.20 241.31 L457.60 240.96 L458.00 240.85 L458.40 241.65 L458.80 241.98 L459.20 241.59 L459.60 241.74 L460.00 242.11 L460.40 241.57 L460.80 241.93 L461.20 242.37 L461.60 242.31 L462.00 242.32 L462.40 242.13 L462.80 241.97 L463.20 242.50 L463.60 242.46 L464.00 242.09 L464.40 242.28 L464.80 242.06 L465.20 241.97 L465.60 242.02 L466.00 242.19 L466.40 242.71 L466.80 242.31 L467.20 242.65 L467.60 242.83" fill="none" stroke="#242424" stroke-width="0.8" stroke-linejoin="round" stroke-linecap="round"/>
<path d="M467.60 242.83 L468.00 242.73" fill="none" stroke="#5e5e5e" stroke-width="0.68"/>
<path d="M468.00 242.73 L468.40 242.75 L468.80 242.75 L469.20 242.80" fill="none" stroke="#242424" stroke-width="0.8" stroke-linejoin="round" stroke-linecap="round"/>
<path d="M469.20 242.80 L478.80 243.00" fill="none" stroke="#5e5e5e" stroke-width="0.68"/>
<path d="M298.75 161 L299.55 161 L300.15 176 L300.15 214 L299.55 224 L299.50 243 L298.75 243 Z" fill="#151515"/>
<path d="M391.95 160 L392.90 160 L393.40 176 L393.40 218 L392.85 236 L392.70 243 L391.95 243 Z" fill="#151515"/>
<text x="295.00" y="197.13" font-size="8.15" text-anchor="end">Unstimulated</text>
<text x="295.00" y="219.43" font-size="8.15" text-anchor="end">Control</text>
<text x="295.00" y="240.13" font-size="8.15" text-anchor="end">Hemin</text>
<line x1="298.75" y1="243.50" x2="386.35" y2="243.50" stroke="#3c3c3c" stroke-width="1.0"/>
<line x1="303.50" y1="243.40" x2="303.50" y2="245.90" stroke="#444" stroke-width="0.6"/>
<text x="303.50" y="253.00" font-size="5.0" text-anchor="middle" class="tk" fill="#6a6a6a">10<tspan dy="-2.1" font-size="3.90">0</tspan></text>
<line x1="322.30" y1="243.40" x2="322.30" y2="245.90" stroke="#444" stroke-width="0.6"/>
<text x="322.30" y="253.00" font-size="5.0" text-anchor="middle" class="tk" fill="#6a6a6a">10<tspan dy="-2.1" font-size="3.90">1</tspan></text>
<line x1="341.50" y1="243.40" x2="341.50" y2="245.90" stroke="#444" stroke-width="0.6"/>
<text x="341.50" y="253.00" font-size="5.0" text-anchor="middle" class="tk" fill="#6a6a6a">10<tspan dy="-2.1" font-size="3.90">2</tspan></text>
<line x1="361.30" y1="243.40" x2="361.30" y2="245.90" stroke="#444" stroke-width="0.6"/>
<text x="361.30" y="253.00" font-size="5.0" text-anchor="middle" class="tk" fill="#6a6a6a">10<tspan dy="-2.1" font-size="3.90">3</tspan></text>
<line x1="379.70" y1="243.40" x2="379.70" y2="245.90" stroke="#444" stroke-width="0.6"/>
<text x="379.70" y="253.00" font-size="5.0" text-anchor="middle" class="tk" fill="#6a6a6a">10<tspan dy="-2.1" font-size="3.90">4</tspan></text>
<line x1="300.55" y1="243.40" x2="300.55" y2="244.80" stroke="#555" stroke-width="0.45"/>
<line x1="301.65" y1="243.40" x2="301.65" y2="244.80" stroke="#555" stroke-width="0.45"/>
<line x1="302.63" y1="243.40" x2="302.63" y2="244.80" stroke="#555" stroke-width="0.45"/>
<line x1="309.23" y1="243.40" x2="309.23" y2="244.80" stroke="#555" stroke-width="0.45"/>
<line x1="312.59" y1="243.40" x2="312.59" y2="244.80" stroke="#555" stroke-width="0.45"/>
<line x1="314.97" y1="243.40" x2="314.97" y2="244.80" stroke="#555" stroke-width="0.45"/>
<line x1="316.82" y1="243.40" x2="316.82" y2="244.80" stroke="#555" stroke-width="0.45"/>
<line x1="318.32" y1="243.40" x2="318.32" y2="244.80" stroke="#555" stroke-width="0.45"/>
<line x1="319.60" y1="243.40" x2="319.60" y2="244.80" stroke="#555" stroke-width="0.45"/>
<line x1="320.70" y1="243.40" x2="320.70" y2="244.80" stroke="#555" stroke-width="0.45"/>
<line x1="321.68" y1="243.40" x2="321.68" y2="244.80" stroke="#555" stroke-width="0.45"/>
<line x1="328.28" y1="243.40" x2="328.28" y2="244.80" stroke="#555" stroke-width="0.45"/>
<line x1="331.64" y1="243.40" x2="331.64" y2="244.80" stroke="#555" stroke-width="0.45"/>
<line x1="334.02" y1="243.40" x2="334.02" y2="244.80" stroke="#555" stroke-width="0.45"/>
<line x1="335.87" y1="243.40" x2="335.87" y2="244.80" stroke="#555" stroke-width="0.45"/>
<line x1="337.37" y1="243.40" x2="337.37" y2="244.80" stroke="#555" stroke-width="0.45"/>
<line x1="338.65" y1="243.40" x2="338.65" y2="244.80" stroke="#555" stroke-width="0.45"/>
<line x1="339.75" y1="243.40" x2="339.75" y2="244.80" stroke="#555" stroke-width="0.45"/>
<line x1="340.73" y1="243.40" x2="340.73" y2="244.80" stroke="#555" stroke-width="0.45"/>
<line x1="347.33" y1="243.40" x2="347.33" y2="244.80" stroke="#555" stroke-width="0.45"/>
<line x1="350.69" y1="243.40" x2="350.69" y2="244.80" stroke="#555" stroke-width="0.45"/>
<line x1="353.07" y1="243.40" x2="353.07" y2="244.80" stroke="#555" stroke-width="0.45"/>
<line x1="354.92" y1="243.40" x2="354.92" y2="244.80" stroke="#555" stroke-width="0.45"/>
<line x1="356.42" y1="243.40" x2="356.42" y2="244.80" stroke="#555" stroke-width="0.45"/>
<line x1="357.70" y1="243.40" x2="357.70" y2="244.80" stroke="#555" stroke-width="0.45"/>
<line x1="358.80" y1="243.40" x2="358.80" y2="244.80" stroke="#555" stroke-width="0.45"/>
<line x1="359.78" y1="243.40" x2="359.78" y2="244.80" stroke="#555" stroke-width="0.45"/>
<line x1="366.38" y1="243.40" x2="366.38" y2="244.80" stroke="#555" stroke-width="0.45"/>
<line x1="369.74" y1="243.40" x2="369.74" y2="244.80" stroke="#555" stroke-width="0.45"/>
<line x1="372.12" y1="243.40" x2="372.12" y2="244.80" stroke="#555" stroke-width="0.45"/>
<line x1="373.97" y1="243.40" x2="373.97" y2="244.80" stroke="#555" stroke-width="0.45"/>
<line x1="375.47" y1="243.40" x2="375.47" y2="244.80" stroke="#555" stroke-width="0.45"/>
<line x1="376.75" y1="243.40" x2="376.75" y2="244.80" stroke="#555" stroke-width="0.45"/>
<line x1="377.85" y1="243.40" x2="377.85" y2="244.80" stroke="#555" stroke-width="0.45"/>
<line x1="378.83" y1="243.40" x2="378.83" y2="244.80" stroke="#555" stroke-width="0.45"/>
<line x1="385.43" y1="243.40" x2="385.43" y2="244.80" stroke="#555" stroke-width="0.45"/>
<line x1="391.95" y1="243.50" x2="479.85" y2="243.50" stroke="#3c3c3c" stroke-width="1.0"/>
<line x1="397.30" y1="243.40" x2="397.30" y2="245.90" stroke="#444" stroke-width="0.6"/>
<text x="397.30" y="253.00" font-size="5.0" text-anchor="middle" class="tk" fill="#6a6a6a">10<tspan dy="-2.1" font-size="3.90">0</tspan></text>
<line x1="416.50" y1="243.40" x2="416.50" y2="245.90" stroke="#444" stroke-width="0.6"/>
<text x="416.50" y="253.00" font-size="5.0" text-anchor="middle" class="tk" fill="#6a6a6a">10<tspan dy="-2.1" font-size="3.90">1</tspan></text>
<line x1="435.70" y1="243.40" x2="435.70" y2="245.90" stroke="#444" stroke-width="0.6"/>
<text x="435.70" y="253.00" font-size="5.0" text-anchor="middle" class="tk" fill="#6a6a6a">10<tspan dy="-2.1" font-size="3.90">2</tspan></text>
<line x1="455.50" y1="243.40" x2="455.50" y2="245.90" stroke="#444" stroke-width="0.6"/>
<text x="455.50" y="253.00" font-size="5.0" text-anchor="middle" class="tk" fill="#6a6a6a">10<tspan dy="-2.1" font-size="3.90">3</tspan></text>
<line x1="473.30" y1="243.40" x2="473.30" y2="245.90" stroke="#444" stroke-width="0.6"/>
<text x="473.30" y="253.00" font-size="5.0" text-anchor="middle" class="tk" fill="#6a6a6a">10<tspan dy="-2.1" font-size="3.90">4</tspan></text>
<line x1="393.08" y1="243.40" x2="393.08" y2="244.80" stroke="#555" stroke-width="0.45"/>
<line x1="394.36" y1="243.40" x2="394.36" y2="244.80" stroke="#555" stroke-width="0.45"/>
<line x1="395.46" y1="243.40" x2="395.46" y2="244.80" stroke="#555" stroke-width="0.45"/>
<line x1="396.43" y1="243.40" x2="396.43" y2="244.80" stroke="#555" stroke-width="0.45"/>
<line x1="403.02" y1="243.40" x2="403.02" y2="244.80" stroke="#555" stroke-width="0.45"/>
<line x1="406.37" y1="243.40" x2="406.37" y2="244.80" stroke="#555" stroke-width="0.45"/>
<line x1="408.74" y1="243.40" x2="408.74" y2="244.80" stroke="#555" stroke-width="0.45"/>
<line x1="410.58" y1="243.40" x2="410.58" y2="244.80" stroke="#555" stroke-width="0.45"/>
<line x1="412.08" y1="243.40" x2="412.08" y2="244.80" stroke="#555" stroke-width="0.45"/>
<line x1="413.36" y1="243.40" x2="413.36" y2="244.80" stroke="#555" stroke-width="0.45"/>
<line x1="414.46" y1="243.40" x2="414.46" y2="244.80" stroke="#555" stroke-width="0.45"/>
<line x1="415.43" y1="243.40" x2="415.43" y2="244.80" stroke="#555" stroke-width="0.45"/>
<line x1="422.02" y1="243.40" x2="422.02" y2="244.80" stroke="#555" stroke-width="0.45"/>
<line x1="425.37" y1="243.40" x2="425.37" y2="244.80" stroke="#555" stroke-width="0.45"/>
<line x1="427.74" y1="243.40" x2="427.74" y2="244.80" stroke="#555" stroke-width="0.45"/>
<line x1="429.58" y1="243.40" x2="429.58" y2="244.80" stroke="#555" stroke-width="0.45"/>
<line x1="431.08" y1="243.40" x2="431.08" y2="244.80" stroke="#555" stroke-width="0.45"/>
<line x1="432.36" y1="243.40" x2="432.36" y2="244.80" stroke="#555" stroke-width="0.45"/>
<line x1="433.46" y1="243.40" x2="433.46" y2="244.80" stroke="#555" stroke-width="0.45"/>
<line x1="434.43" y1="243.40" x2="434.43" y2="244.80" stroke="#555" stroke-width="0.45"/>
<line x1="441.02" y1="243.40" x2="441.02" y2="244.80" stroke="#555" stroke-width="0.45"/>
<line x1="444.37" y1="243.40" x2="444.37" y2="244.80" stroke="#555" stroke-width="0.45"/>
<line x1="446.74" y1="243.40" x2="446.74" y2="244.80" stroke="#555" stroke-width="0.45"/>
<line x1="448.58" y1="243.40" x2="448.58" y2="244.80" stroke="#555" stroke-width="0.45"/>
<line x1="450.08" y1="243.40" x2="450.08" y2="244.80" stroke="#555" stroke-width="0.45"/>
<line x1="451.36" y1="243.40" x2="451.36" y2="244.80" stroke="#555" stroke-width="0.45"/>
<line x1="452.46" y1="243.40" x2="452.46" y2="244.80" stroke="#555" stroke-width="0.45"/>
<line x1="453.43" y1="243.40" x2="453.43" y2="244.80" stroke="#555" stroke-width="0.45"/>
<line x1="460.02" y1="243.40" x2="460.02" y2="244.80" stroke="#555" stroke-width="0.45"/>
<line x1="463.37" y1="243.40" x2="463.37" y2="244.80" stroke="#555" stroke-width="0.45"/>
<line x1="465.74" y1="243.40" x2="465.74" y2="244.80" stroke="#555" stroke-width="0.45"/>
<line x1="467.58" y1="243.40" x2="467.58" y2="244.80" stroke="#555" stroke-width="0.45"/>
<line x1="469.08" y1="243.40" x2="469.08" y2="244.80" stroke="#555" stroke-width="0.45"/>
<line x1="470.36" y1="243.40" x2="470.36" y2="244.80" stroke="#555" stroke-width="0.45"/>
<line x1="471.46" y1="243.40" x2="471.46" y2="244.80" stroke="#555" stroke-width="0.45"/>
<line x1="472.43" y1="243.40" x2="472.43" y2="244.80" stroke="#555" stroke-width="0.45"/>
<line x1="479.02" y1="243.40" x2="479.02" y2="244.80" stroke="#555" stroke-width="0.45"/>
<text transform="translate(241.70 240.80) rotate(-90)" x="0" y="2.88" font-size="8.0" text-anchor="middle">Counts</text>
<path d="M250.70 241.50 L250.70 256.30 L267.10 256.30" fill="none" stroke="#1a1a1a" stroke-width="0.85"/>
<path d="M250.70 240.00 l-2.9 4.8 l2.9 -1.5 l2.9 1.5 Z" fill="#1a1a1a"/>
<path d="M268.60 256.30 l-4.8 -2.9 l1.5 2.9 l-1.5 2.9 Z" fill="#1a1a1a"/>
<text x="255.80" y="269.72" font-size="8.1">CD107a-PE</text>
</g>
<g id="panelD">
<text x="68.80" y="284.10" font-size="12.5" font-weight="bold">D</text>
<rect x="143.20" y="261.80" width="88.70" height="85.80" fill="#fff" stroke="#7e7e7e" stroke-width="0.9"/>
<line x1="143.20" y1="294.50" x2="231.90" y2="294.50" stroke="#a2a2a2" stroke-width="0.5"/>
<path d="M143.60 294.50 L151.20 294.19" fill="none" stroke="#7c7c7c" stroke-width="0.68"/>
<path d="M151.20 294.19 L151.60 294.00 L152.00 293.78 L152.40 293.57 L152.80 293.37 L153.20 293.25 L153.60 293.10 L154.00 292.97 L154.40 292.76 L154.80 292.60 L155.20 292.45 L155.60 292.29 L156.00 292.01 L156.40 291.93 L156.80 291.67 L157.20 291.46 L157.60 291.39 L158.00 291.16 L158.40 291.09 L158.80 290.88 L159.20 290.80 L159.60 290.63 L160.00 290.42 L160.40 290.25 L160.80 289.98 L161.20 289.79 L161.60 289.75 L162.00 289.53 L162.40 289.44 L162.80 289.30 L163.20 289.10 L163.60 288.94 L164.00 288.73 L164.40 288.43 L164.80 288.23 L165.20 288.13 L165.60 287.98 L166.00 288.13 L166.40 288.12 L166.80 288.13 L167.20 288.22 L167.60 288.47 L168.00 288.65 L168.40 288.86 L168.80 289.01 L169.20 289.02 L169.60 289.31 L170.00 289.35 L170.40 289.59 L170.80 289.70 L171.20 289.82 L171.60 290.06 L172.00 290.15 L172.40 290.36 L172.80 290.33 L173.20 290.38 L173.60 290.54 L174.00 290.64 L174.40 290.75 L174.80 290.96 L175.20 291.14 L175.60 291.23 L176.00 291.32 L176.40 291.41 L176.80 291.47 L177.20 291.54 L177.60 291.64 L178.00 291.81 L178.40 291.85 L178.80 291.81 L179.20 291.72 L179.60 291.78 L180.00 291.65 L180.40 291.57 L180.80 291.50 L181.20 291.32 L181.60 291.29 L182.00 291.24 L182.40 291.11 L182.80 290.96 L183.20 290.92 L183.60 290.77 L184.00 290.67 L184.40 290.44 L184.80 290.37 L185.20 290.05 L185.60 289.84 L186.00 289.68 L186.40 289.45 L186.80 289.11 L187.20 288.86 L187.60 288.70 L188.00 288.46 L188.40 288.22 L188.80 287.84 L189.20 287.46 L189.60 287.33 L190.00 286.95 L190.40 286.74 L190.80 286.46 L191.20 286.40 L191.60 286.30 L192.00 286.04 L192.40 285.75 L192.80 285.67 L193.20 285.52 L193.60 285.20 L194.00 284.77 L194.40 283.94 L194.80 282.65 L195.20 280.69 L195.60 278.91 L196.00 276.97 L196.40 275.04 L196.80 272.64 L197.20 270.01 L197.60 268.30 L198.00 266.49 L198.40 265.51 L198.80 265.80 L199.20 267.52 L199.60 269.70 L200.00 271.96 L200.40 274.30 L200.80 276.71 L201.20 278.88 L201.60 281.25 L202.00 283.39 L202.40 285.10 L202.80 286.37 L203.20 287.69 L203.60 288.87 L204.00 289.54 L204.40 290.19 L204.80 290.71 L205.20 291.30 L205.60 291.64 L206.00 292.06 L206.40 292.39 L206.80 292.78 L207.20 293.00 L207.60 293.21 L208.00 293.45 L208.40 293.61 L208.80 293.78 L209.20 293.86 L209.60 293.94 L210.00 294.00 L210.40 294.07 L210.80 294.17 L211.20 294.21 L211.60 294.28 L212.00 294.36" fill="none" stroke="#242424" stroke-width="0.8" stroke-linejoin="round" stroke-linecap="round"/>
<path d="M212.00 294.36 L231.20 294.50" fill="none" stroke="#7c7c7c" stroke-width="0.68"/>
<line x1="143.20" y1="312.20" x2="231.90" y2="312.20" stroke="#a2a2a2" stroke-width="0.5"/>
<path d="M143.60 312.20 L150.80 311.81" fill="none" stroke="#7c7c7c" stroke-width="0.68"/>
<path d="M150.80 311.81 L151.20 311.65 L151.60 311.47 L152.00 311.21 L152.40 311.05 L152.80 310.82 L153.20 310.68 L153.60 310.52 L154.00 310.38 L154.40 310.31 L154.80 310.12 L155.20 310.02 L155.60 309.86 L156.00 309.74 L156.40 309.61 L156.80 309.39 L157.20 309.23 L157.60 308.96 L158.00 308.60 L158.40 308.26 L158.80 308.08 L159.20 307.94 L159.60 307.70 L160.00 307.53 L160.40 307.31 L160.80 306.99 L161.20 306.71 L161.60 306.60 L162.00 306.32 L162.40 306.09 L162.80 305.89 L163.20 305.77 L163.60 305.55 L164.00 305.46 L164.40 305.18 L164.80 304.98 L165.20 304.83 L165.60 304.75 L166.00 304.50 L166.40 304.50 L166.80 304.51 L167.20 304.43 L167.60 304.20 L168.00 304.26 L168.40 304.08 L168.80 303.90 L169.20 303.81 L169.60 303.87 L170.00 303.89 L170.40 303.78 L170.80 303.78 L171.20 303.79 L171.60 304.02 L172.00 304.05 L172.40 304.08 L172.80 304.28 L173.20 304.44 L173.60 304.37 L174.00 304.46 L174.40 304.60 L174.80 304.70 L175.20 304.87 L175.60 305.02 L176.00 305.19 L176.40 305.25 L176.80 305.42 L177.20 305.37 L177.60 305.41 L178.00 305.62 L178.40 305.94 L178.80 306.05 L179.20 306.30 L179.60 306.44 L180.00 306.63 L180.40 306.70 L180.80 306.92 L181.20 307.05 L181.60 307.18 L182.00 307.22 L182.40 307.13 L182.80 307.13 L183.20 307.00 L183.60 306.86 L184.00 306.73 L184.40 306.67 L184.80 306.55 L185.20 306.35 L185.60 305.97 L186.00 305.66 L186.40 305.15 L186.80 304.92 L187.20 304.66 L187.60 304.18 L188.00 303.75 L188.40 303.51 L188.80 303.11 L189.20 302.68 L189.60 302.08 L190.00 301.58 L190.40 301.14 L190.80 300.99 L191.20 300.79 L191.60 300.83 L192.00 300.88 L192.40 300.88 L192.80 300.56 L193.20 300.33 L193.60 300.01 L194.00 299.03 L194.40 297.77 L194.80 296.29 L195.20 293.80 L195.60 290.95 L196.00 288.23 L196.40 285.05 L196.80 282.93 L197.20 281.89 L197.60 282.60 L198.00 284.16 L198.40 286.14 L198.80 288.77 L199.20 291.41 L199.60 294.38 L200.00 296.49 L200.40 298.33 L200.80 299.87 L201.20 301.32 L201.60 302.68 L202.00 303.88 L202.40 304.77 L202.80 305.76 L203.20 306.66 L203.60 307.34 L204.00 307.90 L204.40 308.56 L204.80 309.04 L205.20 309.53 L205.60 309.85 L206.00 310.26 L206.40 310.50 L206.80 310.81 L207.20 311.09 L207.60 311.32 L208.00 311.53 L208.40 311.63 L208.80 311.74 L209.20 311.81 L209.60 311.87 L210.00 311.93 L210.40 312.01" fill="none" stroke="#242424" stroke-width="0.8" stroke-linejoin="round" stroke-linecap="round"/>
<path d="M210.40 312.01 L231.20 312.20" fill="none" stroke="#7c7c7c" stroke-width="0.68"/>
<line x1="143.20" y1="329.30" x2="231.90" y2="329.30" stroke="#a2a2a2" stroke-width="0.5"/>
<path d="M143.60 329.30 L151.60 329.05" fill="none" stroke="#7c7c7c" stroke-width="0.68"/>
<path d="M151.60 329.05 L152.00 328.95 L152.40 328.85 L152.80 328.75 L153.20 328.63 L153.60 328.58 L154.00 328.51 L154.40 328.43 L154.80 328.31 L155.20 328.27 L155.60 328.22 L156.00 328.14 L156.40 328.02 L156.80 327.97 L157.20 327.91 L157.60 327.75 L158.00 327.64 L158.40 327.51 L158.80 327.46 L159.20 327.31 L159.60 327.16 L160.00 326.94 L160.40 326.63 L160.80 326.34 L161.20 326.11 L161.60 325.97 L162.00 325.77 L162.40 325.50 L162.80 325.37 L163.20 325.19 L163.60 324.93 L164.00 324.77 L164.40 324.55 L164.80 324.37 L165.20 324.06 L165.60 323.87 L166.00 323.78 L166.40 323.65 L166.80 323.32 L167.20 323.18 L167.60 322.87 L168.00 322.73 L168.40 322.48 L168.80 322.32 L169.20 322.07 L169.60 322.01 L170.00 321.82 L170.40 321.56 L170.80 321.46 L171.20 321.09 L171.60 320.79 L172.00 320.52 L172.40 320.26 L172.80 319.99 L173.20 319.85 L173.60 319.56 L174.00 319.43 L174.40 319.33 L174.80 318.82 L175.20 318.42 L175.60 318.37 L176.00 318.34 L176.40 318.56 L176.80 318.80 L177.20 319.39 L177.60 319.68 L178.00 320.18 L178.40 320.48 L178.80 320.67 L179.20 320.95 L179.60 321.19 L180.00 321.22 L180.40 320.81 L180.80 320.59 L181.20 320.32 L181.60 320.15 L182.00 320.31 L182.40 320.65 L182.80 320.79 L183.20 321.06 L183.60 321.38 L184.00 321.78 L184.40 321.95 L184.80 322.02 L185.20 322.28 L185.60 322.57 L186.00 322.60 L186.40 322.81 L186.80 322.88 L187.20 322.98 L187.60 322.81 L188.00 322.72 L188.40 322.66 L188.80 322.58 L189.20 322.52 L189.60 322.40 L190.00 322.24 L190.40 322.19 L190.80 321.84 L191.20 321.48 L191.60 321.30 L192.00 320.83 L192.40 319.74 L192.80 318.55 L193.20 317.14 L193.60 314.80 L194.00 312.17 L194.40 310.00 L194.80 307.52 L195.20 305.23 L195.60 303.26 L196.00 301.20 L196.40 299.45 L196.80 299.02 L197.20 300.26 L197.60 302.47 L198.00 304.59 L198.40 307.11 L198.80 309.62 L199.20 311.63 L199.60 313.34 L200.00 315.18 L200.40 316.67 L200.80 317.82 L201.20 319.03 L201.60 320.21 L202.00 321.14 L202.40 322.16 L202.80 322.87 L203.20 323.69 L203.60 324.28 L204.00 325.01 L204.40 325.49 L204.80 326.07 L205.20 326.45 L205.60 326.91 L206.00 327.24 L206.40 327.56 L206.80 327.76 L207.20 327.97 L207.60 328.15 L208.00 328.37 L208.40 328.51 L208.80 328.67 L209.20 328.82 L209.60 328.91 L210.00 329.02 L210.40 329.09" fill="none" stroke="#242424" stroke-width="0.8" stroke-linejoin="round" stroke-linecap="round"/>
<path d="M210.40 329.09 L231.20 329.30" fill="none" stroke="#7c7c7c" stroke-width="0.68"/>
<path d="M143.60 347.10 L159.60 346.65" fill="none" stroke="#7c7c7c" stroke-width="0.68"/>
<path d="M159.60 346.65 L160.00 346.33 L160.40 345.95 L160.80 345.58 L161.20 345.04 L161.60 344.42 L162.00 343.70 L162.40 342.92 L162.80 342.17 L163.20 341.36 L163.60 340.26 L164.00 339.21 L164.40 338.22 L164.80 337.06 L165.20 335.77 L165.60 334.70 L166.00 333.31 L166.40 331.95 L166.80 330.81 L167.20 329.76 L167.60 328.94 L168.00 328.25 L168.40 327.22 L168.80 326.61 L169.20 325.84 L169.60 325.52 L170.00 325.01 L170.40 324.41 L170.80 324.08 L171.20 323.48 L171.60 323.06 L172.00 322.50 L172.40 322.04 L172.80 321.33 L173.20 320.90 L173.60 320.61 L174.00 320.01 L174.40 319.49 L174.80 319.11 L175.20 318.39 L175.60 317.98 L176.00 318.03 L176.40 317.79 L176.80 318.22 L177.20 319.42 L177.60 320.30 L178.00 321.48 L178.40 322.36 L178.80 323.68 L179.20 324.89 L179.60 326.04 L180.00 326.67 L180.40 327.37 L180.80 328.15 L181.20 328.51 L181.60 329.07 L182.00 329.84 L182.40 330.11 L182.80 330.74 L183.20 331.08 L183.60 331.69 L184.00 332.35 L184.40 332.65 L184.80 333.04 L185.20 333.25 L185.60 333.62 L186.00 333.99 L186.40 334.28 L186.80 334.53 L187.20 334.72 L187.60 334.90 L188.00 335.19 L188.40 335.41 L188.80 335.47 L189.20 335.13 L189.60 334.93 L190.00 334.43 L190.40 334.17 L190.80 333.66 L191.20 333.49 L191.60 332.84 L192.00 332.53 L192.40 332.09 L192.80 331.59 L193.20 331.13 L193.60 330.59 L194.00 330.10 L194.40 329.67 L194.80 329.59 L195.20 329.15 L195.60 328.96 L196.00 328.78 L196.40 329.14 L196.80 329.60 L197.20 330.57 L197.60 331.53 L198.00 332.36 L198.40 333.47 L198.80 334.79 L199.20 336.07 L199.60 337.37 L200.00 338.67 L200.40 339.66 L200.80 340.66 L201.20 341.53 L201.60 342.28 L202.00 343.07 L202.40 343.71 L202.80 344.21 L203.20 344.68 L203.60 345.06 L204.00 345.47 L204.40 345.83 L204.80 346.14 L205.20 346.34 L205.60 346.47 L206.00 346.53 L206.40 346.64 L206.80 346.71 L207.20 346.82 L207.60 346.90" fill="none" stroke="#242424" stroke-width="0.8" stroke-linejoin="round" stroke-linecap="round"/>
<path d="M207.60 346.90 L231.20 347.10" fill="none" stroke="#7c7c7c" stroke-width="0.68"/>
<path d="M145.80 303.00 L145.80 345.80 L154.50 345.80 Z" fill="#fff" stroke="#111" stroke-width="1.35" stroke-linejoin="miter"/>
<text x="132.00" y="295.92" font-size="8.1" text-anchor="end">Control</text>
<text x="132.00" y="331.12" font-size="8.1" text-anchor="end">Hemin</text>
<line x1="142.75" y1="347.70" x2="232.35" y2="347.70" stroke="#3c3c3c" stroke-width="1.0"/>
<line x1="147.50" y1="347.60" x2="147.50" y2="350.10" stroke="#444" stroke-width="0.6"/>
<text x="147.50" y="355.60" font-size="5.0" text-anchor="middle" class="tk" fill="#6a6a6a">10<tspan dy="-2.1" font-size="3.90">0</tspan></text>
<line x1="165.70" y1="347.60" x2="165.70" y2="350.10" stroke="#444" stroke-width="0.6"/>
<text x="165.70" y="355.60" font-size="5.0" text-anchor="middle" class="tk" fill="#6a6a6a">10<tspan dy="-2.1" font-size="3.90">1</tspan></text>
<line x1="186.90" y1="347.60" x2="186.90" y2="350.10" stroke="#444" stroke-width="0.6"/>
<text x="186.90" y="355.60" font-size="5.0" text-anchor="middle" class="tk" fill="#6a6a6a">10<tspan dy="-2.1" font-size="3.90">2</tspan></text>
<line x1="207.30" y1="347.60" x2="207.30" y2="350.10" stroke="#444" stroke-width="0.6"/>
<text x="207.30" y="355.60" font-size="5.0" text-anchor="middle" class="tk" fill="#6a6a6a">10<tspan dy="-2.1" font-size="3.90">3</tspan></text>
<line x1="225.70" y1="347.60" x2="225.70" y2="350.10" stroke="#444" stroke-width="0.6"/>
<text x="225.70" y="355.60" font-size="5.0" text-anchor="middle" class="tk" fill="#6a6a6a">10<tspan dy="-2.1" font-size="3.90">4</tspan></text>
<line x1="144.47" y1="347.60" x2="144.47" y2="349.00" stroke="#555" stroke-width="0.45"/>
<line x1="145.61" y1="347.60" x2="145.61" y2="349.00" stroke="#555" stroke-width="0.45"/>
<line x1="146.61" y1="347.60" x2="146.61" y2="349.00" stroke="#555" stroke-width="0.45"/>
<line x1="153.39" y1="347.60" x2="153.39" y2="349.00" stroke="#555" stroke-width="0.45"/>
<line x1="156.83" y1="347.60" x2="156.83" y2="349.00" stroke="#555" stroke-width="0.45"/>
<line x1="159.27" y1="347.60" x2="159.27" y2="349.00" stroke="#555" stroke-width="0.45"/>
<line x1="161.16" y1="347.60" x2="161.16" y2="349.00" stroke="#555" stroke-width="0.45"/>
<line x1="162.71" y1="347.60" x2="162.71" y2="349.00" stroke="#555" stroke-width="0.45"/>
<line x1="164.02" y1="347.60" x2="164.02" y2="349.00" stroke="#555" stroke-width="0.45"/>
<line x1="165.16" y1="347.60" x2="165.16" y2="349.00" stroke="#555" stroke-width="0.45"/>
<line x1="166.16" y1="347.60" x2="166.16" y2="349.00" stroke="#555" stroke-width="0.45"/>
<line x1="172.94" y1="347.60" x2="172.94" y2="349.00" stroke="#555" stroke-width="0.45"/>
<line x1="176.38" y1="347.60" x2="176.38" y2="349.00" stroke="#555" stroke-width="0.45"/>
<line x1="178.82" y1="347.60" x2="178.82" y2="349.00" stroke="#555" stroke-width="0.45"/>
<line x1="180.71" y1="347.60" x2="180.71" y2="349.00" stroke="#555" stroke-width="0.45"/>
<line x1="182.26" y1="347.60" x2="182.26" y2="349.00" stroke="#555" stroke-width="0.45"/>
<line x1="183.57" y1="347.60" x2="183.57" y2="349.00" stroke="#555" stroke-width="0.45"/>
<line x1="184.71" y1="347.60" x2="184.71" y2="349.00" stroke="#555" stroke-width="0.45"/>
<line x1="185.71" y1="347.60" x2="185.71" y2="349.00" stroke="#555" stroke-width="0.45"/>
<line x1="192.49" y1="347.60" x2="192.49" y2="349.00" stroke="#555" stroke-width="0.45"/>
<line x1="195.93" y1="347.60" x2="195.93" y2="349.00" stroke="#555" stroke-width="0.45"/>
<line x1="198.37" y1="347.60" x2="198.37" y2="349.00" stroke="#555" stroke-width="0.45"/>
<line x1="200.26" y1="347.60" x2="200.26" y2="349.00" stroke="#555" stroke-width="0.45"/>
<line x1="201.81" y1="347.60" x2="201.81" y2="349.00" stroke="#555" stroke-width="0.45"/>
<line x1="203.12" y1="347.60" x2="203.12" y2="349.00" stroke="#555" stroke-width="0.45"/>
<line x1="204.26" y1="347.60" x2="204.26" y2="349.00" stroke="#555" stroke-width="0.45"/>
<line x1="205.26" y1="347.60" x2="205.26" y2="349.00" stroke="#555" stroke-width="0.45"/>
<line x1="212.04" y1="347.60" x2="212.04" y2="349.00" stroke="#555" stroke-width="0.45"/>
<line x1="215.48" y1="347.60" x2="215.48" y2="349.00" stroke="#555" stroke-width="0.45"/>
<line x1="217.92" y1="347.60" x2="217.92" y2="349.00" stroke="#555" stroke-width="0.45"/>
<line x1="219.81" y1="347.60" x2="219.81" y2="349.00" stroke="#555" stroke-width="0.45"/>
<line x1="221.36" y1="347.60" x2="221.36" y2="349.00" stroke="#555" stroke-width="0.45"/>
<line x1="222.67" y1="347.60" x2="222.67" y2="349.00" stroke="#555" stroke-width="0.45"/>
<line x1="223.81" y1="347.60" x2="223.81" y2="349.00" stroke="#555" stroke-width="0.45"/>
<line x1="224.81" y1="347.60" x2="224.81" y2="349.00" stroke="#555" stroke-width="0.45"/>
<line x1="231.59" y1="347.60" x2="231.59" y2="349.00" stroke="#555" stroke-width="0.45"/>
<text transform="translate(86.60 342.00) rotate(-90)" x="0" y="2.88" font-size="8.0" text-anchor="middle">Counts</text>
<path d="M96.50 342.10 L96.50 357.20 L113.50 357.20" fill="none" stroke="#1a1a1a" stroke-width="0.85"/>
<path d="M96.50 340.60 l-2.9 4.8 l2.9 -1.5 l2.9 1.5 Z" fill="#1a1a1a"/>
<path d="M115.00 357.20 l-4.8 -2.9 l1.5 2.9 l-1.5 2.9 Z" fill="#1a1a1a"/>
<text x="102.70" y="369.28" font-size="8">CFSE-A</text>
</g>
<g id="panelE">
<text x="312.60" y="284.10" font-size="12.5" font-weight="bold">E</text>
<rect x="392.50" y="260.20" width="86.70" height="83.20" fill="#fff" stroke="#7e7e7e" stroke-width="0.9"/>
<path d="M392.50 299.25 L392.90 298.89 L393.30 298.34 L393.70 297.86 L394.10 296.89 L394.50 296.39 L394.90 295.45 L395.30 294.49 L395.70 293.42 L396.10 292.55 L396.50 291.69 L396.90 290.79 L397.30 290.08 L397.70 289.11 L398.10 288.18 L398.50 286.89 L398.90 285.97 L399.30 285.24 L399.70 284.42 L400.10 283.25 L400.50 281.64 L400.90 281.03 L401.30 279.85 L401.70 278.45 L402.10 277.72 L402.50 276.20 L402.90 274.78 L403.30 273.49 L403.70 272.51 L404.10 271.00 L404.50 272.19 L404.90 273.14 L405.30 273.26 L405.70 272.20 L406.10 270.22 L406.50 268.66 L406.90 267.07 L407.30 266.58 L407.70 266.34 L408.10 267.22 L408.50 268.37 L408.90 269.20 L409.30 268.87 L409.70 268.60 L410.10 268.71 L410.50 269.57 L410.90 271.30 L411.30 273.70 L411.70 276.01 L412.10 277.62 L412.50 279.68 L412.90 281.81 L413.30 283.43 L413.70 285.57 L414.10 287.38 L414.50 288.79 L414.90 289.73 L415.30 291.09 L415.70 292.35 L416.10 293.30 L416.50 294.16 L416.90 294.51 L417.30 294.95 L417.70 295.87 L418.10 296.28 L418.50 296.91 L418.90 297.14 L419.30 297.67 L419.70 297.86 L420.10 298.37 L420.50 298.54 L420.90 298.80 L421.30 299.12 L421.70 299.10 L422.10 299.32 L422.50 299.42 L422.90 299.71 L423.30 299.88 L423.70 299.86 L424.10 300.00 L424.50 299.99 L424.90 300.08 L425.30 300.06 L425.70 300.25 L426.10 300.32 L426.50 300.27 L426.90 300.48 L427.30 300.48 L427.70 300.62" fill="none" stroke="#242424" stroke-width="0.8" stroke-linejoin="round" stroke-linecap="round"/>
<path d="M427.70 300.62 L428.10 300.56" fill="none" stroke="#5e5e5e" stroke-width="0.68"/>
<path d="M428.10 300.56 L428.50 300.57 L428.90 300.60" fill="none" stroke="#242424" stroke-width="0.8" stroke-linejoin="round" stroke-linecap="round"/>
<path d="M428.90 300.60 L478.50 300.80" fill="none" stroke="#5e5e5e" stroke-width="0.68"/>
<path d="M392.50 319.83 L392.90 319.17 L393.30 318.72 L393.70 317.70 L394.10 316.82 L394.50 315.85 L394.90 315.20 L395.30 314.34 L395.70 313.42 L396.10 312.36 L396.50 311.50 L396.90 310.22 L397.30 309.35 L397.70 308.16 L398.10 307.10 L398.50 306.33 L398.90 305.56 L399.30 304.50 L399.70 303.64 L400.10 302.14 L400.50 301.09 L400.90 299.91 L401.30 298.04 L401.70 296.84 L402.10 295.16 L402.50 293.39 L402.90 292.04 L403.30 291.36 L403.70 291.24 L404.10 292.45 L404.50 293.30 L404.90 293.95 L405.30 293.84 L405.70 293.06 L406.10 291.81 L406.50 291.04 L406.90 290.72 L407.30 290.35 L407.70 290.59 L408.10 291.58 L408.50 292.89 L408.90 294.02 L409.30 294.82 L409.70 296.27 L410.10 297.78 L410.50 299.02 L410.90 300.43 L411.30 301.55 L411.70 302.85 L412.10 304.21 L412.50 305.66 L412.90 306.51 L413.30 307.55 L413.70 308.49 L414.10 309.23 L414.50 309.83 L414.90 310.92 L415.30 311.61 L415.70 311.98 L416.10 312.21 L416.50 312.60 L416.90 312.94 L417.30 313.38 L417.70 313.78 L418.10 313.77 L418.50 313.85 L418.90 314.29 L419.30 314.65 L419.70 315.13 L420.10 315.25 L420.50 315.61 L420.90 315.69 L421.30 316.01 L421.70 316.18 L422.10 316.16 L422.50 316.52 L422.90 316.68 L423.30 316.95 L423.70 317.09 L424.10 317.07 L424.50 317.31 L424.90 317.30 L425.30 317.62 L425.70 317.83 L426.10 317.93 L426.50 318.12 L426.90 318.21 L427.30 318.49 L427.70 318.80 L428.10 318.85 L428.50 319.09 L428.90 319.19 L429.30 319.16 L429.70 319.16 L430.10 319.14 L430.50 319.27 L430.90 319.43 L431.30 319.64 L431.70 319.75 L432.10 319.92 L432.50 320.11 L432.90 320.09 L433.30 320.09 L433.70 320.23 L434.10 320.18 L434.50 320.26 L434.90 320.39 L435.30 320.31 L435.70 320.56 L436.10 320.63 L436.50 320.67 L436.90 320.60 L437.30 320.72 L437.70 320.57 L438.10 320.78 L438.50 320.80 L438.90 320.82 L439.30 320.77 L439.70 320.90 L440.10 321.01 L440.50 320.91 L440.90 320.86 L441.30 320.91 L441.70 320.86 L442.10 320.99 L442.50 321.05 L442.90 321.08 L443.30 321.21 L443.70 321.09 L444.10 321.26 L444.50 321.34 L444.90 321.17 L445.30 321.22 L445.70 321.33 L446.10 321.21 L446.50 321.33 L446.90 321.34 L447.30 321.46 L447.70 321.49 L448.10 321.43 L448.50 321.35 L448.90 321.45 L449.30 321.35 L449.70 321.34 L450.10 321.33 L450.50 321.26 L450.90 321.35 L451.30 321.51 L451.70 321.58" fill="none" stroke="#242424" stroke-width="0.8" stroke-linejoin="round" stroke-linecap="round"/>
<path d="M451.70 321.58 L452.10 321.43" fill="none" stroke="#5e5e5e" stroke-width="0.68"/>
<path d="M452.10 321.43 L452.50 321.54 L452.90 321.56" fill="none" stroke="#242424" stroke-width="0.8" stroke-linejoin="round" stroke-linecap="round"/>
<path d="M452.90 321.56 L453.30 321.48" fill="none" stroke="#5e5e5e" stroke-width="0.68"/>
<path d="M453.30 321.48 L453.70 321.47 L454.10 321.46 L454.50 321.48 L454.90 321.51 L455.30 321.49 L455.70 321.55 L456.10 321.56" fill="none" stroke="#242424" stroke-width="0.8" stroke-linejoin="round" stroke-linecap="round"/>
<path d="M456.10 321.56 L456.50 321.52" fill="none" stroke="#5e5e5e" stroke-width="0.68"/>
<path d="M456.50 321.52 L456.90 321.56" fill="none" stroke="#242424" stroke-width="0.8" stroke-linejoin="round" stroke-linecap="round"/>
<path d="M456.90 321.56 L457.30 321.54" fill="none" stroke="#5e5e5e" stroke-width="0.68"/>
<path d="M457.30 321.54 L457.70 321.55 L458.10 321.56" fill="none" stroke="#242424" stroke-width="0.8" stroke-linejoin="round" stroke-linecap="round"/>
<path d="M458.10 321.56 L478.50 321.80" fill="none" stroke="#5e5e5e" stroke-width="0.68"/>
<path d="M392.50 343.20 L401.70 342.97" fill="none" stroke="#5e5e5e" stroke-width="0.68"/>
<path d="M401.70 342.97 L402.10 342.90 L402.50 342.80 L402.90 342.50 L403.30 342.32 L403.70 342.23 L404.10 342.02 L404.50 341.87 L404.90 341.39 L405.30 340.97 L405.70 340.70 L406.10 340.54 L406.50 339.95 L406.90 339.74 L407.30 339.47 L407.70 338.92 L408.10 338.37 L408.50 337.56 L408.90 337.17 L409.30 336.64 L409.70 335.74 L410.10 335.07 L410.50 333.92 L410.90 332.98 L411.30 331.80 L411.70 330.66 L412.10 330.03 L412.50 328.82 L412.90 327.86 L413.30 326.48 L413.70 325.81 L414.10 324.58 L414.50 322.99 L414.90 322.43 L415.30 321.47 L415.70 320.52 L416.10 319.55 L416.50 318.08 L416.90 317.60 L417.30 316.30 L417.70 315.68 L418.10 314.51 L418.50 314.47 L418.90 314.38 L419.30 313.49 L419.70 314.29 L420.10 314.84 L420.50 316.03 L420.90 316.36 L421.30 316.81 L421.70 316.85 L422.10 316.83 L422.50 316.57 L422.90 316.54 L423.30 315.40 L423.70 314.86 L424.10 313.87 L424.50 312.76 L424.90 311.60 L425.30 310.70 L425.70 309.95 L426.10 309.90 L426.50 309.74 L426.90 311.07 L427.30 312.49 L427.70 313.74 L428.10 315.57 L428.50 317.53 L428.90 318.73 L429.30 320.01 L429.70 320.93 L430.10 321.25 L430.50 321.78 L430.90 322.70 L431.30 323.26 L431.70 324.30 L432.10 325.41 L432.50 326.80 L432.90 328.48 L433.30 330.22 L433.70 331.68 L434.10 332.60 L434.50 333.39 L434.90 334.22 L435.30 334.44 L435.70 334.83 L436.10 335.37 L436.50 336.00 L436.90 336.29 L437.30 336.46 L437.70 336.91 L438.10 337.17 L438.50 337.40 L438.90 337.58 L439.30 337.43 L439.70 337.36 L440.10 337.42 L440.50 337.65 L440.90 337.79 L441.30 338.08 L441.70 337.87 L442.10 337.94 L442.50 338.18 L442.90 338.37 L443.30 338.41 L443.70 338.42 L444.10 338.29 L444.50 338.54 L444.90 338.36 L445.30 338.54 L445.70 338.71 L446.10 338.63 L446.50 338.89 L446.90 338.79 L447.30 339.04 L447.70 339.31 L448.10 339.66 L448.50 339.79 L448.90 339.96 L449.30 340.27 L449.70 340.66 L450.10 340.74 L450.50 340.71 L450.90 341.02 L451.30 341.05 L451.70 341.32 L452.10 341.24 L452.50 341.33 L452.90 341.41 L453.30 341.47 L453.70 341.55 L454.10 341.57 L454.50 341.63 L454.90 341.79 L455.30 341.70 L455.70 341.93 L456.10 341.87 L456.50 341.97 L456.90 342.14 L457.30 342.19 L457.70 342.17 L458.10 342.29 L458.50 342.22 L458.90 342.10 L459.30 342.14 L459.70 342.22 L460.10 342.27 L460.50 342.35 L460.90 342.32 L461.30 342.35 L461.70 342.44 L462.10 342.44 L462.50 342.49 L462.90 342.69 L463.30 342.80 L463.70 342.82 L464.10 342.87 L464.50 342.82 L464.90 342.88 L465.30 342.92 L465.70 342.96 L466.10 342.99" fill="none" stroke="#242424" stroke-width="0.8" stroke-linejoin="round" stroke-linecap="round"/>
<path d="M466.10 342.99 L478.50 343.20" fill="none" stroke="#5e5e5e" stroke-width="0.68"/>
<text x="383.30" y="298.15" font-size="8.2" text-anchor="end">Unstimulated</text>
<text x="383.30" y="320.45" font-size="8.2" text-anchor="end">Control</text>
<text x="383.00" y="341.42" font-size="8.1" text-anchor="end">Hemin</text>
<line x1="392.05" y1="343.50" x2="479.65" y2="343.50" stroke="#3c3c3c" stroke-width="1.0"/>
<line x1="396.30" y1="343.40" x2="396.30" y2="345.90" stroke="#444" stroke-width="0.6"/>
<text x="396.30" y="352.20" font-size="5.0" text-anchor="middle" class="tk" fill="#6a6a6a">10<tspan dy="-2.1" font-size="3.90">0</tspan></text>
<line x1="414.70" y1="343.40" x2="414.70" y2="345.90" stroke="#444" stroke-width="0.6"/>
<text x="414.70" y="352.20" font-size="5.0" text-anchor="middle" class="tk" fill="#6a6a6a">10<tspan dy="-2.1" font-size="3.90">1</tspan></text>
<line x1="435.10" y1="343.40" x2="435.10" y2="345.90" stroke="#444" stroke-width="0.6"/>
<text x="435.10" y="352.20" font-size="5.0" text-anchor="middle" class="tk" fill="#6a6a6a">10<tspan dy="-2.1" font-size="3.90">2</tspan></text>
<line x1="455.90" y1="343.40" x2="455.90" y2="345.90" stroke="#444" stroke-width="0.6"/>
<text x="455.90" y="352.20" font-size="5.0" text-anchor="middle" class="tk" fill="#6a6a6a">10<tspan dy="-2.1" font-size="3.90">3</tspan></text>
<line x1="472.70" y1="343.40" x2="472.70" y2="345.90" stroke="#444" stroke-width="0.6"/>
<text x="472.70" y="352.20" font-size="5.0" text-anchor="middle" class="tk" fill="#6a6a6a">10<tspan dy="-2.1" font-size="3.90">4</tspan></text>
<line x1="393.34" y1="343.40" x2="393.34" y2="344.80" stroke="#555" stroke-width="0.45"/>
<line x1="394.45" y1="343.40" x2="394.45" y2="344.80" stroke="#555" stroke-width="0.45"/>
<line x1="395.43" y1="343.40" x2="395.43" y2="344.80" stroke="#555" stroke-width="0.45"/>
<line x1="402.05" y1="343.40" x2="402.05" y2="344.80" stroke="#555" stroke-width="0.45"/>
<line x1="405.41" y1="343.40" x2="405.41" y2="344.80" stroke="#555" stroke-width="0.45"/>
<line x1="407.80" y1="343.40" x2="407.80" y2="344.80" stroke="#555" stroke-width="0.45"/>
<line x1="409.65" y1="343.40" x2="409.65" y2="344.80" stroke="#555" stroke-width="0.45"/>
<line x1="411.16" y1="343.40" x2="411.16" y2="344.80" stroke="#555" stroke-width="0.45"/>
<line x1="412.44" y1="343.40" x2="412.44" y2="344.80" stroke="#555" stroke-width="0.45"/>
<line x1="413.55" y1="343.40" x2="413.55" y2="344.80" stroke="#555" stroke-width="0.45"/>
<line x1="414.53" y1="343.40" x2="414.53" y2="344.80" stroke="#555" stroke-width="0.45"/>
<line x1="421.15" y1="343.40" x2="421.15" y2="344.80" stroke="#555" stroke-width="0.45"/>
<line x1="424.51" y1="343.40" x2="424.51" y2="344.80" stroke="#555" stroke-width="0.45"/>
<line x1="426.90" y1="343.40" x2="426.90" y2="344.80" stroke="#555" stroke-width="0.45"/>
<line x1="428.75" y1="343.40" x2="428.75" y2="344.80" stroke="#555" stroke-width="0.45"/>
<line x1="430.26" y1="343.40" x2="430.26" y2="344.80" stroke="#555" stroke-width="0.45"/>
<line x1="431.54" y1="343.40" x2="431.54" y2="344.80" stroke="#555" stroke-width="0.45"/>
<line x1="432.65" y1="343.40" x2="432.65" y2="344.80" stroke="#555" stroke-width="0.45"/>
<line x1="433.63" y1="343.40" x2="433.63" y2="344.80" stroke="#555" stroke-width="0.45"/>
<line x1="440.25" y1="343.40" x2="440.25" y2="344.80" stroke="#555" stroke-width="0.45"/>
<line x1="443.61" y1="343.40" x2="443.61" y2="344.80" stroke="#555" stroke-width="0.45"/>
<line x1="446.00" y1="343.40" x2="446.00" y2="344.80" stroke="#555" stroke-width="0.45"/>
<line x1="447.85" y1="343.40" x2="447.85" y2="344.80" stroke="#555" stroke-width="0.45"/>
<line x1="449.36" y1="343.40" x2="449.36" y2="344.80" stroke="#555" stroke-width="0.45"/>
<line x1="450.64" y1="343.40" x2="450.64" y2="344.80" stroke="#555" stroke-width="0.45"/>
<line x1="451.75" y1="343.40" x2="451.75" y2="344.80" stroke="#555" stroke-width="0.45"/>
<line x1="452.73" y1="343.40" x2="452.73" y2="344.80" stroke="#555" stroke-width="0.45"/>
<line x1="459.35" y1="343.40" x2="459.35" y2="344.80" stroke="#555" stroke-width="0.45"/>
<line x1="462.71" y1="343.40" x2="462.71" y2="344.80" stroke="#555" stroke-width="0.45"/>
<line x1="465.10" y1="343.40" x2="465.10" y2="344.80" stroke="#555" stroke-width="0.45"/>
<line x1="466.95" y1="343.40" x2="466.95" y2="344.80" stroke="#555" stroke-width="0.45"/>
<line x1="468.46" y1="343.40" x2="468.46" y2="344.80" stroke="#555" stroke-width="0.45"/>
<line x1="469.74" y1="343.40" x2="469.74" y2="344.80" stroke="#555" stroke-width="0.45"/>
<line x1="470.85" y1="343.40" x2="470.85" y2="344.80" stroke="#555" stroke-width="0.45"/>
<line x1="471.83" y1="343.40" x2="471.83" y2="344.80" stroke="#555" stroke-width="0.45"/>
<line x1="478.45" y1="343.40" x2="478.45" y2="344.80" stroke="#555" stroke-width="0.45"/>
<text transform="translate(337.50 340.00) rotate(-90)" x="0" y="2.88" font-size="8.0" text-anchor="middle">Counts</text>
<path d="M349.30 339.70 L349.30 354.70 L366.30 354.70" fill="none" stroke="#1a1a1a" stroke-width="0.85"/>
<path d="M349.30 338.20 l-2.9 4.8 l2.9 -1.5 l2.9 1.5 Z" fill="#1a1a1a"/>
<path d="M367.80 354.70 l-4.8 -2.9 l1.5 2.9 l-1.5 2.9 Z" fill="#1a1a1a"/>
<text x="355.50" y="366.78" font-size="8">CD107a-PE</text>
</g>
<g id="panelF">
<defs>
<linearGradient id="gLight" x1="0" x2="1" y1="0" y2="0"><stop offset="0" stop-color="#ebebeb"/><stop offset="0.45" stop-color="#d9d9d9"/><stop offset="1" stop-color="#b6b6b6"/></linearGradient>
<linearGradient id="gDark" x1="0" x2="1" y1="0" y2="0"><stop offset="0" stop-color="#6a6a6a"/><stop offset="0.6" stop-color="#8a8a8a"/><stop offset="1" stop-color="#a9a9a9"/></linearGradient>
<linearGradient id="gMid" x1="0" x2="1" y1="0" y2="0"><stop offset="0" stop-color="#8c8c8c"/><stop offset="1" stop-color="#a4a4a4"/></linearGradient>
<linearGradient id="gShade" x1="0" x2="0" y1="0" y2="1"><stop offset="0" stop-color="#000" stop-opacity="0.06"/><stop offset="0.3" stop-color="#fff" stop-opacity="0.4"/><stop offset="0.55" stop-color="#fff" stop-opacity="0.0"/><stop offset="1" stop-color="#000" stop-opacity="0.13"/></linearGradient>
<radialGradient id="gMouse" cx="0.55" cy="0.3" r="0.8"><stop offset="0" stop-color="#5a5a5a"/><stop offset="0.6" stop-color="#333"/><stop offset="1" stop-color="#1e1e1e"/></radialGradient>
</defs>
<text x="0.20" y="405.30" font-size="12.5" font-weight="bold">F</text>
<text x="93.20" y="400.23" font-size="8.15" text-anchor="middle">Sublethal</text>
<text x="93.50" y="409.48" font-size="8" text-anchor="middle">irradiation (1 Gy)</text>
<text x="31.60" y="422.79" font-size="8.3" text-anchor="middle">C57BL/6 WT</text>
<text x="31.80" y="432.38" font-size="8" text-anchor="middle">mice</text>
<text x="260.40" y="401.99" font-size="8.3" text-anchor="middle">1:1 CFSEdim-OVA:CFSEbright-ctrl</text>
<text x="260.40" y="412.25" font-size="8.2" text-anchor="middle"><tspan font-style="italic">i.v.</tspan> challenge</text>
<path d="M84.60 437.80 L147.90 437.80 L153.40 442.90 L147.90 448.00 L84.60 448.00 L88.60 442.90 Z" fill="url(#gLight)"/>
<path d="M84.60 437.80 L147.90 437.80 L153.40 442.90 L147.90 448.00 L84.60 448.00 L88.60 442.90 Z" fill="url(#gShade)"/>
<path d="M150.60 437.80 L252.10 437.80 L257.60 442.90 L252.10 448.00 L150.60 448.00 L154.60 442.90 Z" fill="url(#gDark)"/>
<path d="M150.60 437.80 L252.10 437.80 L257.60 442.90 L252.10 448.00 L150.60 448.00 L154.60 442.90 Z" fill="url(#gShade)"/>
<path d="M255.60 437.80 L288.30 437.80 L293.80 442.90 L288.30 448.00 L255.60 448.00 L259.60 442.90 Z" fill="url(#gMid)"/>
<path d="M255.60 437.80 L288.30 437.80 L293.80 442.90 L288.30 448.00 L255.60 448.00 L259.60 442.90 Z" fill="url(#gShade)"/>
<g id="mouse">
<ellipse cx="62.5" cy="451.5" rx="14" ry="1.3" fill="#bdbdbd" opacity="0.55"/>
<path d="M48.2 445.0 C40 447.4 31 446.8 25 444.8 C21.5 443.6 19 443.4 17.2 444.2" fill="none" stroke="#bcbcbc" stroke-width="1.1" stroke-linecap="round"/>
<path d="M47.5 444 C47.5 439 50.5 434.6 56 433.2 C60.5 432.2 65 433 68.5 434.6 C69.5 433.3 71.3 432.9 72 434.4 C72.3 435 72.2 435.8 72 436.4 C75.5 438.4 78.6 441 80.6 443.2 C81 444.2 80.5 445 79.5 445.4 C77.5 446.4 75 447.2 72.8 448.2 C73 449.4 73 450.4 72.6 451 L66 451 C65 450.6 64.6 450 64.8 449.4 C62 450.6 58 451 54 451 L50.5 451 C48.5 450 47.5 447.4 47.5 444 Z" fill="url(#gMouse)"/>
<ellipse cx="57" cy="445.8" rx="6" ry="3.4" fill="#777" opacity="0.42"/>
<path d="M50.5 438.5 C53 435 58 433.6 63.5 434.2" fill="none" stroke="#7a7a7a" stroke-width="1.1" opacity="0.55" stroke-linecap="round"/>
<path d="M73.5 438.6 C76 440 78 441.6 79.6 443.2" fill="none" stroke="#6a6a6a" stroke-width="0.8" opacity="0.6" stroke-linecap="round"/>
<ellipse cx="70.9" cy="434.9" rx="1.3" ry="1.6" fill="#9a9494"/>
<ellipse cx="67.7" cy="439.8" rx="2.6" ry="3.1" fill="#8e8888"/><ellipse cx="67.5" cy="439.9" rx="1.6" ry="2.1" fill="#bdb6b6"/>
<circle cx="76.6" cy="442.0" r="0.75" fill="#000"/>
</g>
<path d="M87.20 428.60 L96.00 428.60 L91.60 435.40 Z" fill="#111"/>
<text x="91.60" y="425.08" font-size="8" text-anchor="middle">-5</text>
<path d="M254.90 428.60 L263.70 428.60 L259.30 435.40 Z" fill="#111"/>
<text x="259.10" y="425.95" font-size="8.2" text-anchor="middle">0</text>
<path d="M122.20 457.30 L130.80 457.30 L126.50 450.40 Z" fill="#111"/>
<text x="126.20" y="466.25" font-size="8.2" text-anchor="middle">-4</text>
<path d="M153.00 457.30 L161.60 457.30 L157.30 450.40 Z" fill="#111"/>
<text x="157.00" y="466.25" font-size="8.2" text-anchor="middle">-3</text>
<path d="M186.40 457.30 L195.00 457.30 L190.70 450.40 Z" fill="#111"/>
<text x="190.40" y="466.25" font-size="8.2" text-anchor="middle">-2</text>
<path d="M220.70 457.30 L229.30 457.30 L225.00 450.40 Z" fill="#111"/>
<text x="224.70" y="466.25" font-size="8.2" text-anchor="middle">-1</text>
<path d="M284.40 457.30 L293.00 457.30 L288.70 450.40 Z" fill="#111"/>
<text x="288.40" y="466.25" font-size="8.2" text-anchor="middle">1</text>
<line x1="127.40" y1="471.80" x2="127.40" y2="495.80" stroke="#444" stroke-width="0.7"/>
<line x1="146.70" y1="472.40" x2="237.30" y2="472.40" stroke="#444" stroke-width="0.7"/>
<text x="193.20" y="483.88" font-size="8" text-anchor="middle"><tspan font-style="italic">s.c.</tspan> PBS/Hemin</text>
<text x="288.80" y="480.02" font-size="8.4" text-anchor="middle">Sacrifice</text>
<text x="288.80" y="489.59" font-size="8.3" text-anchor="middle">Spleen harvest</text>
<text x="288.80" y="498.99" font-size="8.3" text-anchor="middle">FACS analysis</text>
<text x="128.40" y="510.19" font-size="8.3" text-anchor="middle">Adoptive transfer (2×10<tspan dy="-2.6" font-size="5">6</tspan><tspan dy="2.6"> Vα2+</tspan></text>
<text x="126.10" y="519.17" font-size="8.25" text-anchor="middle">lymphocytes, OT1 mice)</text>
</g>
<g id="panelG">
<text x="352.00" y="405.30" font-size="12.5" font-weight="bold">G</text>
<text transform="translate(384.00 449.40) rotate(-90)" x="0" y="2.83" font-size="7.85" text-anchor="middle"><tspan font-style="italic">Hmox1</tspan> mRNA Expression levels</text>
<text transform="translate(392.90 449.80) rotate(-90)" x="0" y="2.84" font-size="7.9" text-anchor="middle">(arbitrary units; relative to <tspan font-style="italic">Rplp0</tspan>)</text>
<line x1="422.00" y1="403.60" x2="422.00" y2="494.20" stroke="#111" stroke-width="0.9"/>
<line x1="421.60" y1="493.80" x2="518.40" y2="493.80" stroke="#111" stroke-width="0.9"/>
<line x1="419.40" y1="493.80" x2="422.00" y2="493.80" stroke="#111" stroke-width="0.9"/>
<text x="419.00" y="496.07" font-size="6.3" text-anchor="end" font-weight="bold">0.000</text>
<line x1="419.40" y1="475.84" x2="422.00" y2="475.84" stroke="#111" stroke-width="0.9"/>
<text x="419.00" y="478.11" font-size="6.3" text-anchor="end" font-weight="bold">0.001</text>
<line x1="419.40" y1="457.88" x2="422.00" y2="457.88" stroke="#111" stroke-width="0.9"/>
<text x="419.00" y="460.15" font-size="6.3" text-anchor="end" font-weight="bold">0.002</text>
<line x1="419.40" y1="439.92" x2="422.00" y2="439.92" stroke="#111" stroke-width="0.9"/>
<text x="419.00" y="442.19" font-size="6.3" text-anchor="end" font-weight="bold">0.003</text>
<line x1="419.40" y1="421.96" x2="422.00" y2="421.96" stroke="#111" stroke-width="0.9"/>
<text x="419.00" y="424.23" font-size="6.3" text-anchor="end" font-weight="bold">0.004</text>
<line x1="419.40" y1="404.00" x2="422.00" y2="404.00" stroke="#111" stroke-width="0.9"/>
<text x="419.00" y="406.27" font-size="6.3" text-anchor="end" font-weight="bold">0.005</text>
<rect x="430.60" y="460.60" width="33.40" height="33.20" fill="#0c0c0c" stroke="none" stroke-width="0.9"/>
<rect x="480.80" y="432.60" width="32.40" height="61.20" fill="#0c0c0c" stroke="none" stroke-width="0.9"/>
<line x1="447.30" y1="459.20" x2="447.30" y2="461.00" stroke="#111" stroke-width="0.9"/>
<line x1="440.80" y1="459.20" x2="453.80" y2="459.20" stroke="#111" stroke-width="0.9"/>
<line x1="497.00" y1="423.40" x2="497.00" y2="433.00" stroke="#111" stroke-width="0.9"/>
<line x1="490.60" y1="423.40" x2="503.60" y2="423.40" stroke="#111" stroke-width="0.9"/>
<line x1="447.30" y1="493.80" x2="447.30" y2="496.40" stroke="#111" stroke-width="0.9"/>
<line x1="497.00" y1="493.80" x2="497.00" y2="496.40" stroke="#111" stroke-width="0.9"/>
<line x1="445.80" y1="414.00" x2="494.60" y2="414.00" stroke="#222" stroke-width="0.8"/>
<line x1="445.80" y1="411.80" x2="445.80" y2="416.20" stroke="#222" stroke-width="0.8"/>
<line x1="494.60" y1="411.80" x2="494.60" y2="416.20" stroke="#222" stroke-width="0.8"/>
<text x="470.80" y="412.76" font-size="11" text-anchor="middle" font-weight="bold">*</text>
<text x="447.40" y="506.00" font-size="8.6" text-anchor="middle">PBS</text>
<text x="493.60" y="505.91" font-size="8.35" text-anchor="middle">Hemin</text>
</g>
<g id="panelH">
<text x="26.00" y="542.70" font-size="12.5" font-weight="bold">H</text>
<text x="167.70" y="540.52" font-size="8.1" text-anchor="middle"><tspan font-style="italic">In vivo</tspan> cytotoxicity assay</text>
<rect x="65.50" y="550.30" width="86.10" height="83.10" fill="#fff" stroke="#7e7e7e" stroke-width="0.9"/>
<line x1="65.50" y1="605.30" x2="151.60" y2="605.30" stroke="#a2a2a2" stroke-width="0.5"/>
<path d="M65.90 605.30 L102.70 605.06" fill="none" stroke="#7c7c7c" stroke-width="0.68"/>
<path d="M102.70 605.06 L103.10 604.82 L103.50 604.53 L103.90 604.20 L104.30 603.89 L104.70 603.57 L105.10 603.15 L105.50 602.74 L105.90 602.20 L106.30 601.69 L106.70 601.01 L107.10 600.43 L107.50 599.64 L107.90 598.63 L108.30 597.56 L108.70 596.48 L109.10 595.34 L109.50 593.98 L109.90 592.87 L110.30 591.93 L110.70 591.31 L111.10 590.99 L111.50 590.59 L111.90 590.26 L112.30 590.06 L112.70 589.89 L113.10 589.93 L113.50 589.84 L113.90 589.86 L114.30 589.87 L114.70 589.74 L115.10 589.80 L115.50 589.77 L115.90 589.35 L116.30 588.36 L116.70 587.09 L117.10 585.53 L117.50 583.41 L117.90 581.30 L118.30 579.19 L118.70 577.20 L119.10 574.91 L119.50 572.94 L119.90 570.95 L120.30 568.69 L120.70 566.54 L121.10 564.71 L121.50 563.84 L121.90 564.67 L122.30 566.66 L122.70 568.68 L123.10 570.65 L123.50 573.16 L123.90 575.46 L124.30 577.53 L124.70 579.63 L125.10 581.78 L125.50 583.73 L125.90 585.61 L126.30 587.42 L126.70 589.10 L127.10 590.53 L127.50 592.08 L127.90 593.43 L128.30 594.79 L128.70 595.93 L129.10 597.03 L129.50 597.96 L129.90 598.92 L130.30 599.80 L130.70 600.55 L131.10 601.12 L131.50 601.63 L131.90 602.10 L132.30 602.50 L132.70 602.86 L133.10 603.18 L133.50 603.44 L133.90 603.68 L134.30 603.85 L134.70 604.04 L135.10 604.20 L135.50 604.37 L135.90 604.51 L136.30 604.60 L136.70 604.71 L137.10 604.81 L137.50 604.90 L137.90 605.01 L138.30 605.08" fill="none" stroke="#242424" stroke-width="0.8" stroke-linejoin="round" stroke-linecap="round"/>
<path d="M138.30 605.08 L151.10 605.30" fill="none" stroke="#7c7c7c" stroke-width="0.68"/>
<path d="M65.90 633.00 L103.90 632.66" fill="none" stroke="#7c7c7c" stroke-width="0.68"/>
<path d="M103.90 632.66 L104.30 632.36 L104.70 632.06 L105.10 631.71 L105.50 631.33 L105.90 630.86 L106.30 630.25 L106.70 629.60 L107.10 628.87 L107.50 627.79 L107.90 626.53 L108.30 625.06 L108.70 623.38 L109.10 621.61 L109.50 619.30 L109.90 617.07 L110.30 614.97 L110.70 613.13 L111.10 611.62 L111.50 610.31 L111.90 609.23 L112.30 608.44 L112.70 608.03 L113.10 608.32 L113.50 609.07 L113.90 609.76 L114.30 610.75 L114.70 612.16 L115.10 613.50 L115.50 615.02 L115.90 615.94 L116.30 616.77 L116.70 616.95 L117.10 615.59 L117.50 613.55 L117.90 610.90 L118.30 607.43 L118.70 604.13 L119.10 601.65 L119.50 599.18 L119.90 597.19 L120.30 595.44 L120.70 593.88 L121.10 592.31 L121.50 590.89 L121.90 589.89 L122.30 589.12 L122.70 589.72 L123.10 591.15 L123.50 593.26 L123.90 595.48 L124.30 598.00 L124.70 600.59 L125.10 603.28 L125.50 606.11 L125.90 608.74 L126.30 611.44 L126.70 614.04 L127.10 616.23 L127.50 618.53 L127.90 620.65 L128.30 622.35 L128.70 623.94 L129.10 625.44 L129.50 626.74 L129.90 627.85 L130.30 628.86 L130.70 629.82 L131.10 630.51 L131.50 631.01 L131.90 631.39 L132.30 631.68 L132.70 631.92 L133.10 632.15 L133.50 632.32 L133.90 632.49 L134.30 632.67 L134.70 632.81" fill="none" stroke="#242424" stroke-width="0.8" stroke-linejoin="round" stroke-linecap="round"/>
<path d="M134.70 632.81 L151.10 633.00" fill="none" stroke="#7c7c7c" stroke-width="0.68"/>
<text x="86.60" y="600.68" font-size="8" text-anchor="middle">Hemin</text>
<text x="86.00" y="628.58" font-size="8" text-anchor="middle">PBS</text>
<text transform="translate(56.80 595.50) rotate(-90)" x="0" y="2.88" font-size="8.0" text-anchor="middle">Counts</text>
<line x1="65.05" y1="633.50" x2="152.05" y2="633.50" stroke="#3c3c3c" stroke-width="1.0"/>
<line x1="71.10" y1="633.40" x2="71.10" y2="635.90" stroke="#444" stroke-width="0.6"/>
<text x="71.10" y="642.40" font-size="5.0" text-anchor="middle" class="tk" fill="#6a6a6a">10<tspan dy="-2.1" font-size="3.90">0</tspan></text>
<line x1="89.10" y1="633.40" x2="89.10" y2="635.90" stroke="#444" stroke-width="0.6"/>
<text x="89.10" y="642.40" font-size="5.0" text-anchor="middle" class="tk" fill="#6a6a6a">10<tspan dy="-2.1" font-size="3.90">1</tspan></text>
<line x1="108.40" y1="633.40" x2="108.40" y2="635.90" stroke="#444" stroke-width="0.6"/>
<text x="108.40" y="642.40" font-size="5.0" text-anchor="middle" class="tk" fill="#6a6a6a">10<tspan dy="-2.1" font-size="3.90">2</tspan></text>
<line x1="127.30" y1="633.40" x2="127.30" y2="635.90" stroke="#444" stroke-width="0.6"/>
<text x="127.30" y="642.40" font-size="5.0" text-anchor="middle" class="tk" fill="#6a6a6a">10<tspan dy="-2.1" font-size="3.90">3</tspan></text>
<line x1="143.90" y1="633.40" x2="143.90" y2="635.90" stroke="#444" stroke-width="0.6"/>
<text x="143.90" y="642.40" font-size="5.0" text-anchor="middle" class="tk" fill="#6a6a6a">10<tspan dy="-2.1" font-size="3.90">4</tspan></text>
<line x1="67.06" y1="633.40" x2="67.06" y2="634.80" stroke="#555" stroke-width="0.45"/>
<line x1="68.28" y1="633.40" x2="68.28" y2="634.80" stroke="#555" stroke-width="0.45"/>
<line x1="69.34" y1="633.40" x2="69.34" y2="634.80" stroke="#555" stroke-width="0.45"/>
<line x1="70.27" y1="633.40" x2="70.27" y2="634.80" stroke="#555" stroke-width="0.45"/>
<line x1="76.58" y1="633.40" x2="76.58" y2="634.80" stroke="#555" stroke-width="0.45"/>
<line x1="79.78" y1="633.40" x2="79.78" y2="634.80" stroke="#555" stroke-width="0.45"/>
<line x1="82.06" y1="633.40" x2="82.06" y2="634.80" stroke="#555" stroke-width="0.45"/>
<line x1="83.82" y1="633.40" x2="83.82" y2="634.80" stroke="#555" stroke-width="0.45"/>
<line x1="85.26" y1="633.40" x2="85.26" y2="634.80" stroke="#555" stroke-width="0.45"/>
<line x1="86.48" y1="633.40" x2="86.48" y2="634.80" stroke="#555" stroke-width="0.45"/>
<line x1="87.54" y1="633.40" x2="87.54" y2="634.80" stroke="#555" stroke-width="0.45"/>
<line x1="88.47" y1="633.40" x2="88.47" y2="634.80" stroke="#555" stroke-width="0.45"/>
<line x1="94.78" y1="633.40" x2="94.78" y2="634.80" stroke="#555" stroke-width="0.45"/>
<line x1="97.98" y1="633.40" x2="97.98" y2="634.80" stroke="#555" stroke-width="0.45"/>
<line x1="100.26" y1="633.40" x2="100.26" y2="634.80" stroke="#555" stroke-width="0.45"/>
<line x1="102.02" y1="633.40" x2="102.02" y2="634.80" stroke="#555" stroke-width="0.45"/>
<line x1="103.46" y1="633.40" x2="103.46" y2="634.80" stroke="#555" stroke-width="0.45"/>
<line x1="104.68" y1="633.40" x2="104.68" y2="634.80" stroke="#555" stroke-width="0.45"/>
<line x1="105.74" y1="633.40" x2="105.74" y2="634.80" stroke="#555" stroke-width="0.45"/>
<line x1="106.67" y1="633.40" x2="106.67" y2="634.80" stroke="#555" stroke-width="0.45"/>
<line x1="112.98" y1="633.40" x2="112.98" y2="634.80" stroke="#555" stroke-width="0.45"/>
<line x1="116.18" y1="633.40" x2="116.18" y2="634.80" stroke="#555" stroke-width="0.45"/>
<line x1="118.46" y1="633.40" x2="118.46" y2="634.80" stroke="#555" stroke-width="0.45"/>
<line x1="120.22" y1="633.40" x2="120.22" y2="634.80" stroke="#555" stroke-width="0.45"/>
<line x1="121.66" y1="633.40" x2="121.66" y2="634.80" stroke="#555" stroke-width="0.45"/>
<line x1="122.88" y1="633.40" x2="122.88" y2="634.80" stroke="#555" stroke-width="0.45"/>
<line x1="123.94" y1="633.40" x2="123.94" y2="634.80" stroke="#555" stroke-width="0.45"/>
<line x1="124.87" y1="633.40" x2="124.87" y2="634.80" stroke="#555" stroke-width="0.45"/>
<line x1="131.18" y1="633.40" x2="131.18" y2="634.80" stroke="#555" stroke-width="0.45"/>
<line x1="134.38" y1="633.40" x2="134.38" y2="634.80" stroke="#555" stroke-width="0.45"/>
<line x1="136.66" y1="633.40" x2="136.66" y2="634.80" stroke="#555" stroke-width="0.45"/>
<line x1="138.42" y1="633.40" x2="138.42" y2="634.80" stroke="#555" stroke-width="0.45"/>
<line x1="139.86" y1="633.40" x2="139.86" y2="634.80" stroke="#555" stroke-width="0.45"/>
<line x1="141.08" y1="633.40" x2="141.08" y2="634.80" stroke="#555" stroke-width="0.45"/>
<line x1="142.14" y1="633.40" x2="142.14" y2="634.80" stroke="#555" stroke-width="0.45"/>
<line x1="143.07" y1="633.40" x2="143.07" y2="634.80" stroke="#555" stroke-width="0.45"/>
<line x1="149.38" y1="633.40" x2="149.38" y2="634.80" stroke="#555" stroke-width="0.45"/>
<text x="108.20" y="651.88" font-size="8" text-anchor="middle">CFSE-A</text>
<line x1="201.50" y1="554.20" x2="201.50" y2="633.60" stroke="#7a7a7a" stroke-width="0.9"/>
<line x1="201.10" y1="633.20" x2="267.50" y2="633.20" stroke="#7a7a7a" stroke-width="0.9"/>
<line x1="198.90" y1="633.20" x2="201.50" y2="633.20" stroke="#7a7a7a" stroke-width="0.9"/>
<text x="198.90" y="636.01" font-size="7.8" text-anchor="end">30</text>
<line x1="198.90" y1="617.48" x2="201.50" y2="617.48" stroke="#7a7a7a" stroke-width="0.9"/>
<text x="198.90" y="620.29" font-size="7.8" text-anchor="end">40</text>
<line x1="198.90" y1="601.76" x2="201.50" y2="601.76" stroke="#7a7a7a" stroke-width="0.9"/>
<text x="198.90" y="604.57" font-size="7.8" text-anchor="end">50</text>
<line x1="198.90" y1="586.04" x2="201.50" y2="586.04" stroke="#7a7a7a" stroke-width="0.9"/>
<text x="198.90" y="588.85" font-size="7.8" text-anchor="end">60</text>
<line x1="198.90" y1="570.32" x2="201.50" y2="570.32" stroke="#7a7a7a" stroke-width="0.9"/>
<text x="198.90" y="573.13" font-size="7.8" text-anchor="end">70</text>
<line x1="198.90" y1="554.60" x2="201.50" y2="554.60" stroke="#7a7a7a" stroke-width="0.9"/>
<text x="198.90" y="557.41" font-size="7.8" text-anchor="end">80</text>
<line x1="217.00" y1="633.20" x2="217.00" y2="635.80" stroke="#7a7a7a" stroke-width="0.9"/>
<line x1="251.00" y1="633.20" x2="251.00" y2="635.80" stroke="#7a7a7a" stroke-width="0.9"/>
<text x="217.60" y="645.28" font-size="8" text-anchor="middle">PBS</text>
<text x="251.30" y="645.28" font-size="8" text-anchor="middle">Hemin</text>
<text transform="translate(170.50 594.00) rotate(-90)" x="0" y="2.88" font-size="8.0" text-anchor="middle">OVA-specific</text>
<text transform="translate(179.80 593.90) rotate(-90)" x="0" y="2.92" font-size="8.1" text-anchor="middle">cytotoxicity (%)</text>
<line x1="217.20" y1="559.80" x2="251.30" y2="559.80" stroke="#777" stroke-width="0.8"/>
<line x1="217.20" y1="557.80" x2="217.20" y2="561.80" stroke="#777" stroke-width="0.8"/>
<line x1="251.30" y1="557.80" x2="251.30" y2="561.80" stroke="#777" stroke-width="0.8"/>
<text x="233.80" y="560.20" font-size="10" text-anchor="middle" font-weight="bold">**</text>
<circle cx="212.00" cy="591.60" r="2.3" fill="#fff" stroke="#111" stroke-width="0.9"/>
<circle cx="218.80" cy="596.80" r="2.3" fill="#fff" stroke="#111" stroke-width="0.9"/>
<circle cx="224.70" cy="595.50" r="2.3" fill="#fff" stroke="#111" stroke-width="0.9"/>
<circle cx="217.80" cy="607.60" r="2.3" fill="#fff" stroke="#111" stroke-width="0.9"/>
<circle cx="218.80" cy="615.20" r="2.3" fill="#fff" stroke="#111" stroke-width="0.9"/>
<line x1="207.80" y1="601.30" x2="229.20" y2="601.30" stroke="#111" stroke-width="0.9"/>
<rect x="244.10" y="570.30" width="3.4" height="3.4" fill="#111"/>
<rect x="249.00" y="573.70" width="3.4" height="3.4" fill="#111"/>
<rect x="253.50" y="579.60" width="3.4" height="3.4" fill="#111"/>
<rect x="249.00" y="584.10" width="3.4" height="3.4" fill="#111"/>
<line x1="240.70" y1="578.80" x2="261.40" y2="578.80" stroke="#111" stroke-width="0.9"/>
</g>
<g id="panelI">
<text x="303.40" y="542.70" font-size="12.5" font-weight="bold">I</text>
<text x="390.40" y="540.32" font-size="8.1" text-anchor="middle"><tspan font-style="italic">In vivo</tspan> cytotoxicity assay</text>
<line x1="359.80" y1="553.60" x2="359.80" y2="633.60" stroke="#7a7a7a" stroke-width="0.9"/>
<line x1="359.40" y1="633.20" x2="425.50" y2="633.20" stroke="#7a7a7a" stroke-width="0.9"/>
<line x1="357.20" y1="633.20" x2="359.80" y2="633.20" stroke="#7a7a7a" stroke-width="0.9"/>
<text x="357.40" y="636.01" font-size="7.8" text-anchor="end">0</text>
<line x1="357.20" y1="606.80" x2="359.80" y2="606.80" stroke="#7a7a7a" stroke-width="0.9"/>
<text x="357.40" y="609.61" font-size="7.8" text-anchor="end">20</text>
<line x1="357.20" y1="580.40" x2="359.80" y2="580.40" stroke="#7a7a7a" stroke-width="0.9"/>
<text x="357.40" y="583.21" font-size="7.8" text-anchor="end">40</text>
<line x1="357.20" y1="554.00" x2="359.80" y2="554.00" stroke="#7a7a7a" stroke-width="0.9"/>
<text x="357.40" y="556.81" font-size="7.8" text-anchor="end">60</text>
<line x1="376.30" y1="633.20" x2="376.30" y2="635.80" stroke="#7a7a7a" stroke-width="0.9"/>
<line x1="409.20" y1="633.20" x2="409.20" y2="635.80" stroke="#7a7a7a" stroke-width="0.9"/>
<text x="376.90" y="645.28" font-size="8" text-anchor="middle">PBS</text>
<text x="410.30" y="645.28" font-size="8" text-anchor="middle">Hemin</text>
<text transform="translate(326.60 595.80) rotate(-90)" x="0" y="2.88" font-size="8.0" text-anchor="middle">OVA-Specific</text>
<text transform="translate(337.40 595.40) rotate(-90)" x="0" y="2.92" font-size="8.1" text-anchor="middle">cytotoxicity (%)</text>
<line x1="376.30" y1="554.80" x2="409.20" y2="554.80" stroke="#777" stroke-width="0.8"/>
<line x1="376.30" y1="552.80" x2="376.30" y2="556.80" stroke="#777" stroke-width="0.8"/>
<line x1="409.20" y1="552.80" x2="409.20" y2="556.80" stroke="#777" stroke-width="0.8"/>
<text x="392.60" y="555.00" font-size="10" text-anchor="middle" font-weight="bold">**</text>
<circle cx="376.30" cy="608.40" r="2.3" fill="#fff" stroke="#111" stroke-width="0.9"/>
<circle cx="370.20" cy="620.60" r="2.3" fill="#fff" stroke="#111" stroke-width="0.9"/>
<circle cx="376.30" cy="622.60" r="2.3" fill="#fff" stroke="#111" stroke-width="0.9"/>
<circle cx="376.30" cy="633.20" r="2.3" fill="#fff" stroke="#111" stroke-width="0.9"/>
<line x1="365.50" y1="621.20" x2="387.50" y2="621.20" stroke="#111" stroke-width="0.9"/>
<rect x="407.50" y="563.80" width="3.4" height="3.4" fill="#111"/>
<rect x="412.60" y="561.70" width="3.4" height="3.4" fill="#111"/>
<rect x="407.50" y="571.30" width="3.4" height="3.4" fill="#111"/>
<rect x="407.50" y="605.80" width="3.4" height="3.4" fill="#111"/>
<line x1="398.80" y1="577.50" x2="419.80" y2="577.50" stroke="#111" stroke-width="0.9"/>
</g>
</svg>
</body>
</html>
